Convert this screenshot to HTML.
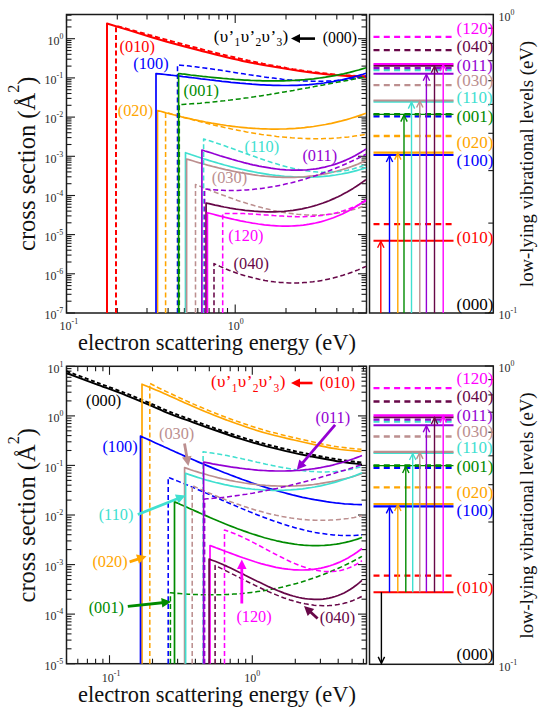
<!DOCTYPE html>
<html><head><meta charset="utf-8"><title>figure</title>
<style>html,body{margin:0;padding:0;background:#fff;}svg{display:block;}</style>
</head><body>
<svg width="550" height="713" viewBox="0 0 550 713">
<rect width="550" height="713" fill="#fff"/>
<line x1="66.5" y1="313.0" x2="66.5" y2="304.5" stroke="#1a1a1a" stroke-width="1.1"/>
<line x1="66.5" y1="14.5" x2="66.5" y2="23.0" stroke="#1a1a1a" stroke-width="1.1"/>
<line x1="117.3" y1="313.0" x2="117.3" y2="308.0" stroke="#1a1a1a" stroke-width="1.1"/>
<line x1="117.3" y1="14.5" x2="117.3" y2="19.5" stroke="#1a1a1a" stroke-width="1.1"/>
<line x1="147.0" y1="313.0" x2="147.0" y2="308.0" stroke="#1a1a1a" stroke-width="1.1"/>
<line x1="147.0" y1="14.5" x2="147.0" y2="19.5" stroke="#1a1a1a" stroke-width="1.1"/>
<line x1="168.1" y1="313.0" x2="168.1" y2="308.0" stroke="#1a1a1a" stroke-width="1.1"/>
<line x1="168.1" y1="14.5" x2="168.1" y2="19.5" stroke="#1a1a1a" stroke-width="1.1"/>
<line x1="184.4" y1="313.0" x2="184.4" y2="308.0" stroke="#1a1a1a" stroke-width="1.1"/>
<line x1="184.4" y1="14.5" x2="184.4" y2="19.5" stroke="#1a1a1a" stroke-width="1.1"/>
<line x1="197.8" y1="313.0" x2="197.8" y2="308.0" stroke="#1a1a1a" stroke-width="1.1"/>
<line x1="197.8" y1="14.5" x2="197.8" y2="19.5" stroke="#1a1a1a" stroke-width="1.1"/>
<line x1="209.1" y1="313.0" x2="209.1" y2="308.0" stroke="#1a1a1a" stroke-width="1.1"/>
<line x1="209.1" y1="14.5" x2="209.1" y2="19.5" stroke="#1a1a1a" stroke-width="1.1"/>
<line x1="218.9" y1="313.0" x2="218.9" y2="308.0" stroke="#1a1a1a" stroke-width="1.1"/>
<line x1="218.9" y1="14.5" x2="218.9" y2="19.5" stroke="#1a1a1a" stroke-width="1.1"/>
<line x1="227.5" y1="313.0" x2="227.5" y2="308.0" stroke="#1a1a1a" stroke-width="1.1"/>
<line x1="227.5" y1="14.5" x2="227.5" y2="19.5" stroke="#1a1a1a" stroke-width="1.1"/>
<line x1="235.2" y1="313.0" x2="235.2" y2="304.5" stroke="#1a1a1a" stroke-width="1.1"/>
<line x1="235.2" y1="14.5" x2="235.2" y2="23.0" stroke="#1a1a1a" stroke-width="1.1"/>
<line x1="286.0" y1="313.0" x2="286.0" y2="308.0" stroke="#1a1a1a" stroke-width="1.1"/>
<line x1="286.0" y1="14.5" x2="286.0" y2="19.5" stroke="#1a1a1a" stroke-width="1.1"/>
<line x1="315.7" y1="313.0" x2="315.7" y2="308.0" stroke="#1a1a1a" stroke-width="1.1"/>
<line x1="315.7" y1="14.5" x2="315.7" y2="19.5" stroke="#1a1a1a" stroke-width="1.1"/>
<line x1="336.8" y1="313.0" x2="336.8" y2="308.0" stroke="#1a1a1a" stroke-width="1.1"/>
<line x1="336.8" y1="14.5" x2="336.8" y2="19.5" stroke="#1a1a1a" stroke-width="1.1"/>
<line x1="353.1" y1="313.0" x2="353.1" y2="308.0" stroke="#1a1a1a" stroke-width="1.1"/>
<line x1="353.1" y1="14.5" x2="353.1" y2="19.5" stroke="#1a1a1a" stroke-width="1.1"/>
<line x1="366.5" y1="313.0" x2="366.5" y2="308.0" stroke="#1a1a1a" stroke-width="1.1"/>
<line x1="366.5" y1="14.5" x2="366.5" y2="19.5" stroke="#1a1a1a" stroke-width="1.1"/>
<line x1="66.5" y1="313.0" x2="75.0" y2="313.0" stroke="#1a1a1a" stroke-width="1.1"/>
<line x1="366.5" y1="313.0" x2="358.0" y2="313.0" stroke="#1a1a1a" stroke-width="1.1"/>
<line x1="66.5" y1="301.2" x2="71.5" y2="301.2" stroke="#1a1a1a" stroke-width="1.1"/>
<line x1="366.5" y1="301.2" x2="361.5" y2="301.2" stroke="#1a1a1a" stroke-width="1.1"/>
<line x1="66.5" y1="294.3" x2="71.5" y2="294.3" stroke="#1a1a1a" stroke-width="1.1"/>
<line x1="366.5" y1="294.3" x2="361.5" y2="294.3" stroke="#1a1a1a" stroke-width="1.1"/>
<line x1="66.5" y1="289.4" x2="71.5" y2="289.4" stroke="#1a1a1a" stroke-width="1.1"/>
<line x1="366.5" y1="289.4" x2="361.5" y2="289.4" stroke="#1a1a1a" stroke-width="1.1"/>
<line x1="66.5" y1="285.6" x2="71.5" y2="285.6" stroke="#1a1a1a" stroke-width="1.1"/>
<line x1="366.5" y1="285.6" x2="361.5" y2="285.6" stroke="#1a1a1a" stroke-width="1.1"/>
<line x1="66.5" y1="282.5" x2="71.5" y2="282.5" stroke="#1a1a1a" stroke-width="1.1"/>
<line x1="366.5" y1="282.5" x2="361.5" y2="282.5" stroke="#1a1a1a" stroke-width="1.1"/>
<line x1="66.5" y1="279.9" x2="71.5" y2="279.9" stroke="#1a1a1a" stroke-width="1.1"/>
<line x1="366.5" y1="279.9" x2="361.5" y2="279.9" stroke="#1a1a1a" stroke-width="1.1"/>
<line x1="66.5" y1="277.6" x2="71.5" y2="277.6" stroke="#1a1a1a" stroke-width="1.1"/>
<line x1="366.5" y1="277.6" x2="361.5" y2="277.6" stroke="#1a1a1a" stroke-width="1.1"/>
<line x1="66.5" y1="275.6" x2="71.5" y2="275.6" stroke="#1a1a1a" stroke-width="1.1"/>
<line x1="366.5" y1="275.6" x2="361.5" y2="275.6" stroke="#1a1a1a" stroke-width="1.1"/>
<line x1="66.5" y1="273.8" x2="75.0" y2="273.8" stroke="#1a1a1a" stroke-width="1.1"/>
<line x1="366.5" y1="273.8" x2="358.0" y2="273.8" stroke="#1a1a1a" stroke-width="1.1"/>
<line x1="66.5" y1="262.0" x2="71.5" y2="262.0" stroke="#1a1a1a" stroke-width="1.1"/>
<line x1="366.5" y1="262.0" x2="361.5" y2="262.0" stroke="#1a1a1a" stroke-width="1.1"/>
<line x1="66.5" y1="255.1" x2="71.5" y2="255.1" stroke="#1a1a1a" stroke-width="1.1"/>
<line x1="366.5" y1="255.1" x2="361.5" y2="255.1" stroke="#1a1a1a" stroke-width="1.1"/>
<line x1="66.5" y1="250.2" x2="71.5" y2="250.2" stroke="#1a1a1a" stroke-width="1.1"/>
<line x1="366.5" y1="250.2" x2="361.5" y2="250.2" stroke="#1a1a1a" stroke-width="1.1"/>
<line x1="66.5" y1="246.4" x2="71.5" y2="246.4" stroke="#1a1a1a" stroke-width="1.1"/>
<line x1="366.5" y1="246.4" x2="361.5" y2="246.4" stroke="#1a1a1a" stroke-width="1.1"/>
<line x1="66.5" y1="243.3" x2="71.5" y2="243.3" stroke="#1a1a1a" stroke-width="1.1"/>
<line x1="366.5" y1="243.3" x2="361.5" y2="243.3" stroke="#1a1a1a" stroke-width="1.1"/>
<line x1="66.5" y1="240.7" x2="71.5" y2="240.7" stroke="#1a1a1a" stroke-width="1.1"/>
<line x1="366.5" y1="240.7" x2="361.5" y2="240.7" stroke="#1a1a1a" stroke-width="1.1"/>
<line x1="66.5" y1="238.4" x2="71.5" y2="238.4" stroke="#1a1a1a" stroke-width="1.1"/>
<line x1="366.5" y1="238.4" x2="361.5" y2="238.4" stroke="#1a1a1a" stroke-width="1.1"/>
<line x1="66.5" y1="236.4" x2="71.5" y2="236.4" stroke="#1a1a1a" stroke-width="1.1"/>
<line x1="366.5" y1="236.4" x2="361.5" y2="236.4" stroke="#1a1a1a" stroke-width="1.1"/>
<line x1="66.5" y1="234.6" x2="75.0" y2="234.6" stroke="#1a1a1a" stroke-width="1.1"/>
<line x1="366.5" y1="234.6" x2="358.0" y2="234.6" stroke="#1a1a1a" stroke-width="1.1"/>
<line x1="66.5" y1="222.8" x2="71.5" y2="222.8" stroke="#1a1a1a" stroke-width="1.1"/>
<line x1="366.5" y1="222.8" x2="361.5" y2="222.8" stroke="#1a1a1a" stroke-width="1.1"/>
<line x1="66.5" y1="215.9" x2="71.5" y2="215.9" stroke="#1a1a1a" stroke-width="1.1"/>
<line x1="366.5" y1="215.9" x2="361.5" y2="215.9" stroke="#1a1a1a" stroke-width="1.1"/>
<line x1="66.5" y1="211.1" x2="71.5" y2="211.1" stroke="#1a1a1a" stroke-width="1.1"/>
<line x1="366.5" y1="211.1" x2="361.5" y2="211.1" stroke="#1a1a1a" stroke-width="1.1"/>
<line x1="66.5" y1="207.3" x2="71.5" y2="207.3" stroke="#1a1a1a" stroke-width="1.1"/>
<line x1="366.5" y1="207.3" x2="361.5" y2="207.3" stroke="#1a1a1a" stroke-width="1.1"/>
<line x1="66.5" y1="204.2" x2="71.5" y2="204.2" stroke="#1a1a1a" stroke-width="1.1"/>
<line x1="366.5" y1="204.2" x2="361.5" y2="204.2" stroke="#1a1a1a" stroke-width="1.1"/>
<line x1="66.5" y1="201.5" x2="71.5" y2="201.5" stroke="#1a1a1a" stroke-width="1.1"/>
<line x1="366.5" y1="201.5" x2="361.5" y2="201.5" stroke="#1a1a1a" stroke-width="1.1"/>
<line x1="66.5" y1="199.3" x2="71.5" y2="199.3" stroke="#1a1a1a" stroke-width="1.1"/>
<line x1="366.5" y1="199.3" x2="361.5" y2="199.3" stroke="#1a1a1a" stroke-width="1.1"/>
<line x1="66.5" y1="197.3" x2="71.5" y2="197.3" stroke="#1a1a1a" stroke-width="1.1"/>
<line x1="366.5" y1="197.3" x2="361.5" y2="197.3" stroke="#1a1a1a" stroke-width="1.1"/>
<line x1="66.5" y1="195.5" x2="75.0" y2="195.5" stroke="#1a1a1a" stroke-width="1.1"/>
<line x1="366.5" y1="195.5" x2="358.0" y2="195.5" stroke="#1a1a1a" stroke-width="1.1"/>
<line x1="66.5" y1="183.7" x2="71.5" y2="183.7" stroke="#1a1a1a" stroke-width="1.1"/>
<line x1="366.5" y1="183.7" x2="361.5" y2="183.7" stroke="#1a1a1a" stroke-width="1.1"/>
<line x1="66.5" y1="176.8" x2="71.5" y2="176.8" stroke="#1a1a1a" stroke-width="1.1"/>
<line x1="366.5" y1="176.8" x2="361.5" y2="176.8" stroke="#1a1a1a" stroke-width="1.1"/>
<line x1="66.5" y1="171.9" x2="71.5" y2="171.9" stroke="#1a1a1a" stroke-width="1.1"/>
<line x1="366.5" y1="171.9" x2="361.5" y2="171.9" stroke="#1a1a1a" stroke-width="1.1"/>
<line x1="66.5" y1="168.1" x2="71.5" y2="168.1" stroke="#1a1a1a" stroke-width="1.1"/>
<line x1="366.5" y1="168.1" x2="361.5" y2="168.1" stroke="#1a1a1a" stroke-width="1.1"/>
<line x1="66.5" y1="165.0" x2="71.5" y2="165.0" stroke="#1a1a1a" stroke-width="1.1"/>
<line x1="366.5" y1="165.0" x2="361.5" y2="165.0" stroke="#1a1a1a" stroke-width="1.1"/>
<line x1="66.5" y1="162.3" x2="71.5" y2="162.3" stroke="#1a1a1a" stroke-width="1.1"/>
<line x1="366.5" y1="162.3" x2="361.5" y2="162.3" stroke="#1a1a1a" stroke-width="1.1"/>
<line x1="66.5" y1="160.1" x2="71.5" y2="160.1" stroke="#1a1a1a" stroke-width="1.1"/>
<line x1="366.5" y1="160.1" x2="361.5" y2="160.1" stroke="#1a1a1a" stroke-width="1.1"/>
<line x1="66.5" y1="158.1" x2="71.5" y2="158.1" stroke="#1a1a1a" stroke-width="1.1"/>
<line x1="366.5" y1="158.1" x2="361.5" y2="158.1" stroke="#1a1a1a" stroke-width="1.1"/>
<line x1="66.5" y1="156.3" x2="75.0" y2="156.3" stroke="#1a1a1a" stroke-width="1.1"/>
<line x1="366.5" y1="156.3" x2="358.0" y2="156.3" stroke="#1a1a1a" stroke-width="1.1"/>
<line x1="66.5" y1="144.5" x2="71.5" y2="144.5" stroke="#1a1a1a" stroke-width="1.1"/>
<line x1="366.5" y1="144.5" x2="361.5" y2="144.5" stroke="#1a1a1a" stroke-width="1.1"/>
<line x1="66.5" y1="137.6" x2="71.5" y2="137.6" stroke="#1a1a1a" stroke-width="1.1"/>
<line x1="366.5" y1="137.6" x2="361.5" y2="137.6" stroke="#1a1a1a" stroke-width="1.1"/>
<line x1="66.5" y1="132.7" x2="71.5" y2="132.7" stroke="#1a1a1a" stroke-width="1.1"/>
<line x1="366.5" y1="132.7" x2="361.5" y2="132.7" stroke="#1a1a1a" stroke-width="1.1"/>
<line x1="66.5" y1="128.9" x2="71.5" y2="128.9" stroke="#1a1a1a" stroke-width="1.1"/>
<line x1="366.5" y1="128.9" x2="361.5" y2="128.9" stroke="#1a1a1a" stroke-width="1.1"/>
<line x1="66.5" y1="125.8" x2="71.5" y2="125.8" stroke="#1a1a1a" stroke-width="1.1"/>
<line x1="366.5" y1="125.8" x2="361.5" y2="125.8" stroke="#1a1a1a" stroke-width="1.1"/>
<line x1="66.5" y1="123.2" x2="71.5" y2="123.2" stroke="#1a1a1a" stroke-width="1.1"/>
<line x1="366.5" y1="123.2" x2="361.5" y2="123.2" stroke="#1a1a1a" stroke-width="1.1"/>
<line x1="66.5" y1="120.9" x2="71.5" y2="120.9" stroke="#1a1a1a" stroke-width="1.1"/>
<line x1="366.5" y1="120.9" x2="361.5" y2="120.9" stroke="#1a1a1a" stroke-width="1.1"/>
<line x1="66.5" y1="118.9" x2="71.5" y2="118.9" stroke="#1a1a1a" stroke-width="1.1"/>
<line x1="366.5" y1="118.9" x2="361.5" y2="118.9" stroke="#1a1a1a" stroke-width="1.1"/>
<line x1="66.5" y1="117.1" x2="75.0" y2="117.1" stroke="#1a1a1a" stroke-width="1.1"/>
<line x1="366.5" y1="117.1" x2="358.0" y2="117.1" stroke="#1a1a1a" stroke-width="1.1"/>
<line x1="66.5" y1="105.3" x2="71.5" y2="105.3" stroke="#1a1a1a" stroke-width="1.1"/>
<line x1="366.5" y1="105.3" x2="361.5" y2="105.3" stroke="#1a1a1a" stroke-width="1.1"/>
<line x1="66.5" y1="98.4" x2="71.5" y2="98.4" stroke="#1a1a1a" stroke-width="1.1"/>
<line x1="366.5" y1="98.4" x2="361.5" y2="98.4" stroke="#1a1a1a" stroke-width="1.1"/>
<line x1="66.5" y1="93.5" x2="71.5" y2="93.5" stroke="#1a1a1a" stroke-width="1.1"/>
<line x1="366.5" y1="93.5" x2="361.5" y2="93.5" stroke="#1a1a1a" stroke-width="1.1"/>
<line x1="66.5" y1="89.7" x2="71.5" y2="89.7" stroke="#1a1a1a" stroke-width="1.1"/>
<line x1="366.5" y1="89.7" x2="361.5" y2="89.7" stroke="#1a1a1a" stroke-width="1.1"/>
<line x1="66.5" y1="86.6" x2="71.5" y2="86.6" stroke="#1a1a1a" stroke-width="1.1"/>
<line x1="366.5" y1="86.6" x2="361.5" y2="86.6" stroke="#1a1a1a" stroke-width="1.1"/>
<line x1="66.5" y1="84.0" x2="71.5" y2="84.0" stroke="#1a1a1a" stroke-width="1.1"/>
<line x1="366.5" y1="84.0" x2="361.5" y2="84.0" stroke="#1a1a1a" stroke-width="1.1"/>
<line x1="66.5" y1="81.7" x2="71.5" y2="81.7" stroke="#1a1a1a" stroke-width="1.1"/>
<line x1="366.5" y1="81.7" x2="361.5" y2="81.7" stroke="#1a1a1a" stroke-width="1.1"/>
<line x1="66.5" y1="79.7" x2="71.5" y2="79.7" stroke="#1a1a1a" stroke-width="1.1"/>
<line x1="366.5" y1="79.7" x2="361.5" y2="79.7" stroke="#1a1a1a" stroke-width="1.1"/>
<line x1="66.5" y1="77.9" x2="75.0" y2="77.9" stroke="#1a1a1a" stroke-width="1.1"/>
<line x1="366.5" y1="77.9" x2="358.0" y2="77.9" stroke="#1a1a1a" stroke-width="1.1"/>
<line x1="66.5" y1="66.1" x2="71.5" y2="66.1" stroke="#1a1a1a" stroke-width="1.1"/>
<line x1="366.5" y1="66.1" x2="361.5" y2="66.1" stroke="#1a1a1a" stroke-width="1.1"/>
<line x1="66.5" y1="59.2" x2="71.5" y2="59.2" stroke="#1a1a1a" stroke-width="1.1"/>
<line x1="366.5" y1="59.2" x2="361.5" y2="59.2" stroke="#1a1a1a" stroke-width="1.1"/>
<line x1="66.5" y1="54.3" x2="71.5" y2="54.3" stroke="#1a1a1a" stroke-width="1.1"/>
<line x1="366.5" y1="54.3" x2="361.5" y2="54.3" stroke="#1a1a1a" stroke-width="1.1"/>
<line x1="66.5" y1="50.5" x2="71.5" y2="50.5" stroke="#1a1a1a" stroke-width="1.1"/>
<line x1="366.5" y1="50.5" x2="361.5" y2="50.5" stroke="#1a1a1a" stroke-width="1.1"/>
<line x1="66.5" y1="47.4" x2="71.5" y2="47.4" stroke="#1a1a1a" stroke-width="1.1"/>
<line x1="366.5" y1="47.4" x2="361.5" y2="47.4" stroke="#1a1a1a" stroke-width="1.1"/>
<line x1="66.5" y1="44.8" x2="71.5" y2="44.8" stroke="#1a1a1a" stroke-width="1.1"/>
<line x1="366.5" y1="44.8" x2="361.5" y2="44.8" stroke="#1a1a1a" stroke-width="1.1"/>
<line x1="66.5" y1="42.5" x2="71.5" y2="42.5" stroke="#1a1a1a" stroke-width="1.1"/>
<line x1="366.5" y1="42.5" x2="361.5" y2="42.5" stroke="#1a1a1a" stroke-width="1.1"/>
<line x1="66.5" y1="40.5" x2="71.5" y2="40.5" stroke="#1a1a1a" stroke-width="1.1"/>
<line x1="366.5" y1="40.5" x2="361.5" y2="40.5" stroke="#1a1a1a" stroke-width="1.1"/>
<line x1="66.5" y1="38.7" x2="75.0" y2="38.7" stroke="#1a1a1a" stroke-width="1.1"/>
<line x1="366.5" y1="38.7" x2="358.0" y2="38.7" stroke="#1a1a1a" stroke-width="1.1"/>
<line x1="66.5" y1="26.9" x2="71.5" y2="26.9" stroke="#1a1a1a" stroke-width="1.1"/>
<line x1="366.5" y1="26.9" x2="361.5" y2="26.9" stroke="#1a1a1a" stroke-width="1.1"/>
<line x1="66.5" y1="20.0" x2="71.5" y2="20.0" stroke="#1a1a1a" stroke-width="1.1"/>
<line x1="366.5" y1="20.0" x2="361.5" y2="20.0" stroke="#1a1a1a" stroke-width="1.1"/>
<line x1="66.5" y1="15.2" x2="71.5" y2="15.2" stroke="#1a1a1a" stroke-width="1.1"/>
<line x1="366.5" y1="15.2" x2="361.5" y2="15.2" stroke="#1a1a1a" stroke-width="1.1"/>
<line x1="66.5" y1="663.7" x2="66.5" y2="658.7" stroke="#1a1a1a" stroke-width="1.1"/>
<line x1="66.5" y1="366.3" x2="66.5" y2="371.3" stroke="#1a1a1a" stroke-width="1.1"/>
<line x1="77.8" y1="663.7" x2="77.8" y2="658.7" stroke="#1a1a1a" stroke-width="1.1"/>
<line x1="77.8" y1="366.3" x2="77.8" y2="371.3" stroke="#1a1a1a" stroke-width="1.1"/>
<line x1="87.4" y1="663.7" x2="87.4" y2="658.7" stroke="#1a1a1a" stroke-width="1.1"/>
<line x1="87.4" y1="366.3" x2="87.4" y2="371.3" stroke="#1a1a1a" stroke-width="1.1"/>
<line x1="95.6" y1="663.7" x2="95.6" y2="658.7" stroke="#1a1a1a" stroke-width="1.1"/>
<line x1="95.6" y1="366.3" x2="95.6" y2="371.3" stroke="#1a1a1a" stroke-width="1.1"/>
<line x1="102.9" y1="663.7" x2="102.9" y2="658.7" stroke="#1a1a1a" stroke-width="1.1"/>
<line x1="102.9" y1="366.3" x2="102.9" y2="371.3" stroke="#1a1a1a" stroke-width="1.1"/>
<line x1="109.5" y1="663.7" x2="109.5" y2="655.2" stroke="#1a1a1a" stroke-width="1.1"/>
<line x1="109.5" y1="366.3" x2="109.5" y2="374.8" stroke="#1a1a1a" stroke-width="1.1"/>
<line x1="152.5" y1="663.7" x2="152.5" y2="658.7" stroke="#1a1a1a" stroke-width="1.1"/>
<line x1="152.5" y1="366.3" x2="152.5" y2="371.3" stroke="#1a1a1a" stroke-width="1.1"/>
<line x1="177.6" y1="663.7" x2="177.6" y2="658.7" stroke="#1a1a1a" stroke-width="1.1"/>
<line x1="177.6" y1="366.3" x2="177.6" y2="371.3" stroke="#1a1a1a" stroke-width="1.1"/>
<line x1="195.4" y1="663.7" x2="195.4" y2="658.7" stroke="#1a1a1a" stroke-width="1.1"/>
<line x1="195.4" y1="366.3" x2="195.4" y2="371.3" stroke="#1a1a1a" stroke-width="1.1"/>
<line x1="209.3" y1="663.7" x2="209.3" y2="658.7" stroke="#1a1a1a" stroke-width="1.1"/>
<line x1="209.3" y1="366.3" x2="209.3" y2="371.3" stroke="#1a1a1a" stroke-width="1.1"/>
<line x1="220.6" y1="663.7" x2="220.6" y2="658.7" stroke="#1a1a1a" stroke-width="1.1"/>
<line x1="220.6" y1="366.3" x2="220.6" y2="371.3" stroke="#1a1a1a" stroke-width="1.1"/>
<line x1="230.2" y1="663.7" x2="230.2" y2="658.7" stroke="#1a1a1a" stroke-width="1.1"/>
<line x1="230.2" y1="366.3" x2="230.2" y2="371.3" stroke="#1a1a1a" stroke-width="1.1"/>
<line x1="238.4" y1="663.7" x2="238.4" y2="658.7" stroke="#1a1a1a" stroke-width="1.1"/>
<line x1="238.4" y1="366.3" x2="238.4" y2="371.3" stroke="#1a1a1a" stroke-width="1.1"/>
<line x1="245.7" y1="663.7" x2="245.7" y2="658.7" stroke="#1a1a1a" stroke-width="1.1"/>
<line x1="245.7" y1="366.3" x2="245.7" y2="371.3" stroke="#1a1a1a" stroke-width="1.1"/>
<line x1="252.3" y1="663.7" x2="252.3" y2="655.2" stroke="#1a1a1a" stroke-width="1.1"/>
<line x1="252.3" y1="366.3" x2="252.3" y2="374.8" stroke="#1a1a1a" stroke-width="1.1"/>
<line x1="295.3" y1="663.7" x2="295.3" y2="658.7" stroke="#1a1a1a" stroke-width="1.1"/>
<line x1="295.3" y1="366.3" x2="295.3" y2="371.3" stroke="#1a1a1a" stroke-width="1.1"/>
<line x1="320.4" y1="663.7" x2="320.4" y2="658.7" stroke="#1a1a1a" stroke-width="1.1"/>
<line x1="320.4" y1="366.3" x2="320.4" y2="371.3" stroke="#1a1a1a" stroke-width="1.1"/>
<line x1="338.2" y1="663.7" x2="338.2" y2="658.7" stroke="#1a1a1a" stroke-width="1.1"/>
<line x1="338.2" y1="366.3" x2="338.2" y2="371.3" stroke="#1a1a1a" stroke-width="1.1"/>
<line x1="352.1" y1="663.7" x2="352.1" y2="658.7" stroke="#1a1a1a" stroke-width="1.1"/>
<line x1="352.1" y1="366.3" x2="352.1" y2="371.3" stroke="#1a1a1a" stroke-width="1.1"/>
<line x1="363.4" y1="663.7" x2="363.4" y2="658.7" stroke="#1a1a1a" stroke-width="1.1"/>
<line x1="363.4" y1="366.3" x2="363.4" y2="371.3" stroke="#1a1a1a" stroke-width="1.1"/>
<line x1="66.5" y1="663.7" x2="75.0" y2="663.7" stroke="#1a1a1a" stroke-width="1.1"/>
<line x1="366.5" y1="663.7" x2="358.0" y2="663.7" stroke="#1a1a1a" stroke-width="1.1"/>
<line x1="66.5" y1="648.8" x2="71.5" y2="648.8" stroke="#1a1a1a" stroke-width="1.1"/>
<line x1="366.5" y1="648.8" x2="361.5" y2="648.8" stroke="#1a1a1a" stroke-width="1.1"/>
<line x1="66.5" y1="640.1" x2="71.5" y2="640.1" stroke="#1a1a1a" stroke-width="1.1"/>
<line x1="366.5" y1="640.1" x2="361.5" y2="640.1" stroke="#1a1a1a" stroke-width="1.1"/>
<line x1="66.5" y1="633.9" x2="71.5" y2="633.9" stroke="#1a1a1a" stroke-width="1.1"/>
<line x1="366.5" y1="633.9" x2="361.5" y2="633.9" stroke="#1a1a1a" stroke-width="1.1"/>
<line x1="66.5" y1="629.1" x2="71.5" y2="629.1" stroke="#1a1a1a" stroke-width="1.1"/>
<line x1="366.5" y1="629.1" x2="361.5" y2="629.1" stroke="#1a1a1a" stroke-width="1.1"/>
<line x1="66.5" y1="625.1" x2="71.5" y2="625.1" stroke="#1a1a1a" stroke-width="1.1"/>
<line x1="366.5" y1="625.1" x2="361.5" y2="625.1" stroke="#1a1a1a" stroke-width="1.1"/>
<line x1="66.5" y1="621.8" x2="71.5" y2="621.8" stroke="#1a1a1a" stroke-width="1.1"/>
<line x1="366.5" y1="621.8" x2="361.5" y2="621.8" stroke="#1a1a1a" stroke-width="1.1"/>
<line x1="66.5" y1="618.9" x2="71.5" y2="618.9" stroke="#1a1a1a" stroke-width="1.1"/>
<line x1="366.5" y1="618.9" x2="361.5" y2="618.9" stroke="#1a1a1a" stroke-width="1.1"/>
<line x1="66.5" y1="616.4" x2="71.5" y2="616.4" stroke="#1a1a1a" stroke-width="1.1"/>
<line x1="366.5" y1="616.4" x2="361.5" y2="616.4" stroke="#1a1a1a" stroke-width="1.1"/>
<line x1="66.5" y1="614.1" x2="75.0" y2="614.1" stroke="#1a1a1a" stroke-width="1.1"/>
<line x1="366.5" y1="614.1" x2="358.0" y2="614.1" stroke="#1a1a1a" stroke-width="1.1"/>
<line x1="66.5" y1="599.2" x2="71.5" y2="599.2" stroke="#1a1a1a" stroke-width="1.1"/>
<line x1="366.5" y1="599.2" x2="361.5" y2="599.2" stroke="#1a1a1a" stroke-width="1.1"/>
<line x1="66.5" y1="590.5" x2="71.5" y2="590.5" stroke="#1a1a1a" stroke-width="1.1"/>
<line x1="366.5" y1="590.5" x2="361.5" y2="590.5" stroke="#1a1a1a" stroke-width="1.1"/>
<line x1="66.5" y1="584.3" x2="71.5" y2="584.3" stroke="#1a1a1a" stroke-width="1.1"/>
<line x1="366.5" y1="584.3" x2="361.5" y2="584.3" stroke="#1a1a1a" stroke-width="1.1"/>
<line x1="66.5" y1="579.5" x2="71.5" y2="579.5" stroke="#1a1a1a" stroke-width="1.1"/>
<line x1="366.5" y1="579.5" x2="361.5" y2="579.5" stroke="#1a1a1a" stroke-width="1.1"/>
<line x1="66.5" y1="575.6" x2="71.5" y2="575.6" stroke="#1a1a1a" stroke-width="1.1"/>
<line x1="366.5" y1="575.6" x2="361.5" y2="575.6" stroke="#1a1a1a" stroke-width="1.1"/>
<line x1="66.5" y1="572.2" x2="71.5" y2="572.2" stroke="#1a1a1a" stroke-width="1.1"/>
<line x1="366.5" y1="572.2" x2="361.5" y2="572.2" stroke="#1a1a1a" stroke-width="1.1"/>
<line x1="66.5" y1="569.4" x2="71.5" y2="569.4" stroke="#1a1a1a" stroke-width="1.1"/>
<line x1="366.5" y1="569.4" x2="361.5" y2="569.4" stroke="#1a1a1a" stroke-width="1.1"/>
<line x1="66.5" y1="566.8" x2="71.5" y2="566.8" stroke="#1a1a1a" stroke-width="1.1"/>
<line x1="366.5" y1="566.8" x2="361.5" y2="566.8" stroke="#1a1a1a" stroke-width="1.1"/>
<line x1="66.5" y1="564.6" x2="75.0" y2="564.6" stroke="#1a1a1a" stroke-width="1.1"/>
<line x1="366.5" y1="564.6" x2="358.0" y2="564.6" stroke="#1a1a1a" stroke-width="1.1"/>
<line x1="66.5" y1="549.6" x2="71.5" y2="549.6" stroke="#1a1a1a" stroke-width="1.1"/>
<line x1="366.5" y1="549.6" x2="361.5" y2="549.6" stroke="#1a1a1a" stroke-width="1.1"/>
<line x1="66.5" y1="540.9" x2="71.5" y2="540.9" stroke="#1a1a1a" stroke-width="1.1"/>
<line x1="366.5" y1="540.9" x2="361.5" y2="540.9" stroke="#1a1a1a" stroke-width="1.1"/>
<line x1="66.5" y1="534.7" x2="71.5" y2="534.7" stroke="#1a1a1a" stroke-width="1.1"/>
<line x1="366.5" y1="534.7" x2="361.5" y2="534.7" stroke="#1a1a1a" stroke-width="1.1"/>
<line x1="66.5" y1="529.9" x2="71.5" y2="529.9" stroke="#1a1a1a" stroke-width="1.1"/>
<line x1="366.5" y1="529.9" x2="361.5" y2="529.9" stroke="#1a1a1a" stroke-width="1.1"/>
<line x1="66.5" y1="526.0" x2="71.5" y2="526.0" stroke="#1a1a1a" stroke-width="1.1"/>
<line x1="366.5" y1="526.0" x2="361.5" y2="526.0" stroke="#1a1a1a" stroke-width="1.1"/>
<line x1="66.5" y1="522.7" x2="71.5" y2="522.7" stroke="#1a1a1a" stroke-width="1.1"/>
<line x1="366.5" y1="522.7" x2="361.5" y2="522.7" stroke="#1a1a1a" stroke-width="1.1"/>
<line x1="66.5" y1="519.8" x2="71.5" y2="519.8" stroke="#1a1a1a" stroke-width="1.1"/>
<line x1="366.5" y1="519.8" x2="361.5" y2="519.8" stroke="#1a1a1a" stroke-width="1.1"/>
<line x1="66.5" y1="517.3" x2="71.5" y2="517.3" stroke="#1a1a1a" stroke-width="1.1"/>
<line x1="366.5" y1="517.3" x2="361.5" y2="517.3" stroke="#1a1a1a" stroke-width="1.1"/>
<line x1="66.5" y1="515.0" x2="75.0" y2="515.0" stroke="#1a1a1a" stroke-width="1.1"/>
<line x1="366.5" y1="515.0" x2="358.0" y2="515.0" stroke="#1a1a1a" stroke-width="1.1"/>
<line x1="66.5" y1="500.1" x2="71.5" y2="500.1" stroke="#1a1a1a" stroke-width="1.1"/>
<line x1="366.5" y1="500.1" x2="361.5" y2="500.1" stroke="#1a1a1a" stroke-width="1.1"/>
<line x1="66.5" y1="491.4" x2="71.5" y2="491.4" stroke="#1a1a1a" stroke-width="1.1"/>
<line x1="366.5" y1="491.4" x2="361.5" y2="491.4" stroke="#1a1a1a" stroke-width="1.1"/>
<line x1="66.5" y1="485.2" x2="71.5" y2="485.2" stroke="#1a1a1a" stroke-width="1.1"/>
<line x1="366.5" y1="485.2" x2="361.5" y2="485.2" stroke="#1a1a1a" stroke-width="1.1"/>
<line x1="66.5" y1="480.4" x2="71.5" y2="480.4" stroke="#1a1a1a" stroke-width="1.1"/>
<line x1="366.5" y1="480.4" x2="361.5" y2="480.4" stroke="#1a1a1a" stroke-width="1.1"/>
<line x1="66.5" y1="476.4" x2="71.5" y2="476.4" stroke="#1a1a1a" stroke-width="1.1"/>
<line x1="366.5" y1="476.4" x2="361.5" y2="476.4" stroke="#1a1a1a" stroke-width="1.1"/>
<line x1="66.5" y1="473.1" x2="71.5" y2="473.1" stroke="#1a1a1a" stroke-width="1.1"/>
<line x1="366.5" y1="473.1" x2="361.5" y2="473.1" stroke="#1a1a1a" stroke-width="1.1"/>
<line x1="66.5" y1="470.2" x2="71.5" y2="470.2" stroke="#1a1a1a" stroke-width="1.1"/>
<line x1="366.5" y1="470.2" x2="361.5" y2="470.2" stroke="#1a1a1a" stroke-width="1.1"/>
<line x1="66.5" y1="467.7" x2="71.5" y2="467.7" stroke="#1a1a1a" stroke-width="1.1"/>
<line x1="366.5" y1="467.7" x2="361.5" y2="467.7" stroke="#1a1a1a" stroke-width="1.1"/>
<line x1="66.5" y1="465.4" x2="75.0" y2="465.4" stroke="#1a1a1a" stroke-width="1.1"/>
<line x1="366.5" y1="465.4" x2="358.0" y2="465.4" stroke="#1a1a1a" stroke-width="1.1"/>
<line x1="66.5" y1="450.5" x2="71.5" y2="450.5" stroke="#1a1a1a" stroke-width="1.1"/>
<line x1="366.5" y1="450.5" x2="361.5" y2="450.5" stroke="#1a1a1a" stroke-width="1.1"/>
<line x1="66.5" y1="441.8" x2="71.5" y2="441.8" stroke="#1a1a1a" stroke-width="1.1"/>
<line x1="366.5" y1="441.8" x2="361.5" y2="441.8" stroke="#1a1a1a" stroke-width="1.1"/>
<line x1="66.5" y1="435.6" x2="71.5" y2="435.6" stroke="#1a1a1a" stroke-width="1.1"/>
<line x1="366.5" y1="435.6" x2="361.5" y2="435.6" stroke="#1a1a1a" stroke-width="1.1"/>
<line x1="66.5" y1="430.8" x2="71.5" y2="430.8" stroke="#1a1a1a" stroke-width="1.1"/>
<line x1="366.5" y1="430.8" x2="361.5" y2="430.8" stroke="#1a1a1a" stroke-width="1.1"/>
<line x1="66.5" y1="426.9" x2="71.5" y2="426.9" stroke="#1a1a1a" stroke-width="1.1"/>
<line x1="366.5" y1="426.9" x2="361.5" y2="426.9" stroke="#1a1a1a" stroke-width="1.1"/>
<line x1="66.5" y1="423.5" x2="71.5" y2="423.5" stroke="#1a1a1a" stroke-width="1.1"/>
<line x1="366.5" y1="423.5" x2="361.5" y2="423.5" stroke="#1a1a1a" stroke-width="1.1"/>
<line x1="66.5" y1="420.7" x2="71.5" y2="420.7" stroke="#1a1a1a" stroke-width="1.1"/>
<line x1="366.5" y1="420.7" x2="361.5" y2="420.7" stroke="#1a1a1a" stroke-width="1.1"/>
<line x1="66.5" y1="418.1" x2="71.5" y2="418.1" stroke="#1a1a1a" stroke-width="1.1"/>
<line x1="366.5" y1="418.1" x2="361.5" y2="418.1" stroke="#1a1a1a" stroke-width="1.1"/>
<line x1="66.5" y1="415.9" x2="75.0" y2="415.9" stroke="#1a1a1a" stroke-width="1.1"/>
<line x1="366.5" y1="415.9" x2="358.0" y2="415.9" stroke="#1a1a1a" stroke-width="1.1"/>
<line x1="66.5" y1="400.9" x2="71.5" y2="400.9" stroke="#1a1a1a" stroke-width="1.1"/>
<line x1="366.5" y1="400.9" x2="361.5" y2="400.9" stroke="#1a1a1a" stroke-width="1.1"/>
<line x1="66.5" y1="392.2" x2="71.5" y2="392.2" stroke="#1a1a1a" stroke-width="1.1"/>
<line x1="366.5" y1="392.2" x2="361.5" y2="392.2" stroke="#1a1a1a" stroke-width="1.1"/>
<line x1="66.5" y1="386.0" x2="71.5" y2="386.0" stroke="#1a1a1a" stroke-width="1.1"/>
<line x1="366.5" y1="386.0" x2="361.5" y2="386.0" stroke="#1a1a1a" stroke-width="1.1"/>
<line x1="66.5" y1="381.2" x2="71.5" y2="381.2" stroke="#1a1a1a" stroke-width="1.1"/>
<line x1="366.5" y1="381.2" x2="361.5" y2="381.2" stroke="#1a1a1a" stroke-width="1.1"/>
<line x1="66.5" y1="377.3" x2="71.5" y2="377.3" stroke="#1a1a1a" stroke-width="1.1"/>
<line x1="366.5" y1="377.3" x2="361.5" y2="377.3" stroke="#1a1a1a" stroke-width="1.1"/>
<line x1="66.5" y1="374.0" x2="71.5" y2="374.0" stroke="#1a1a1a" stroke-width="1.1"/>
<line x1="366.5" y1="374.0" x2="361.5" y2="374.0" stroke="#1a1a1a" stroke-width="1.1"/>
<line x1="66.5" y1="371.1" x2="71.5" y2="371.1" stroke="#1a1a1a" stroke-width="1.1"/>
<line x1="366.5" y1="371.1" x2="361.5" y2="371.1" stroke="#1a1a1a" stroke-width="1.1"/>
<line x1="66.5" y1="368.6" x2="71.5" y2="368.6" stroke="#1a1a1a" stroke-width="1.1"/>
<line x1="366.5" y1="368.6" x2="361.5" y2="368.6" stroke="#1a1a1a" stroke-width="1.1"/>
<line x1="66.5" y1="366.3" x2="75.0" y2="366.3" stroke="#1a1a1a" stroke-width="1.1"/>
<line x1="366.5" y1="366.3" x2="358.0" y2="366.3" stroke="#1a1a1a" stroke-width="1.1"/>
<line x1="493.3" y1="313.0" x2="484.8" y2="313.0" stroke="#1a1a1a" stroke-width="1.1"/>
<line x1="493.3" y1="223.1" x2="488.3" y2="223.1" stroke="#1a1a1a" stroke-width="1.1"/>
<line x1="493.3" y1="170.6" x2="488.3" y2="170.6" stroke="#1a1a1a" stroke-width="1.1"/>
<line x1="493.3" y1="133.3" x2="488.3" y2="133.3" stroke="#1a1a1a" stroke-width="1.1"/>
<line x1="493.3" y1="104.4" x2="488.3" y2="104.4" stroke="#1a1a1a" stroke-width="1.1"/>
<line x1="493.3" y1="80.7" x2="488.3" y2="80.7" stroke="#1a1a1a" stroke-width="1.1"/>
<line x1="493.3" y1="60.7" x2="488.3" y2="60.7" stroke="#1a1a1a" stroke-width="1.1"/>
<line x1="493.3" y1="43.4" x2="488.3" y2="43.4" stroke="#1a1a1a" stroke-width="1.1"/>
<line x1="493.3" y1="28.2" x2="488.3" y2="28.2" stroke="#1a1a1a" stroke-width="1.1"/>
<line x1="493.3" y1="14.5" x2="484.8" y2="14.5" stroke="#1a1a1a" stroke-width="1.1"/>
<line x1="493.3" y1="664.3" x2="484.8" y2="664.3" stroke="#1a1a1a" stroke-width="1.1"/>
<line x1="493.3" y1="574.5" x2="488.3" y2="574.5" stroke="#1a1a1a" stroke-width="1.1"/>
<line x1="493.3" y1="522.0" x2="488.3" y2="522.0" stroke="#1a1a1a" stroke-width="1.1"/>
<line x1="493.3" y1="484.7" x2="488.3" y2="484.7" stroke="#1a1a1a" stroke-width="1.1"/>
<line x1="493.3" y1="455.8" x2="488.3" y2="455.8" stroke="#1a1a1a" stroke-width="1.1"/>
<line x1="493.3" y1="432.2" x2="488.3" y2="432.2" stroke="#1a1a1a" stroke-width="1.1"/>
<line x1="493.3" y1="412.2" x2="488.3" y2="412.2" stroke="#1a1a1a" stroke-width="1.1"/>
<line x1="493.3" y1="394.9" x2="488.3" y2="394.9" stroke="#1a1a1a" stroke-width="1.1"/>
<line x1="493.3" y1="379.6" x2="488.3" y2="379.6" stroke="#1a1a1a" stroke-width="1.1"/>
<line x1="493.3" y1="366.0" x2="484.8" y2="366.0" stroke="#1a1a1a" stroke-width="1.1"/>
<rect x="66.5" y="14.5" width="300.0" height="298.5" fill="none" stroke="#1a1a1a" stroke-width="1.5"/>
<rect x="369.5" y="14.5" width="123.8" height="298.5" fill="none" stroke="#1a1a1a" stroke-width="1.5"/>
<rect x="66.5" y="366.3" width="300.0" height="297.4" fill="none" stroke="#1a1a1a" stroke-width="1.5"/>
<rect x="369.5" y="366.0" width="123.8" height="298.3" fill="none" stroke="#1a1a1a" stroke-width="1.5"/>
<text x="47.5" y="45.0" font-size="12.0" fill="#2a2a2a" font-family="'Liberation Serif', serif">10<tspan dy="-6" font-size="7.9">0</tspan></text>
<text x="44.5" y="84.2" font-size="12.0" fill="#2a2a2a" font-family="'Liberation Serif', serif">10<tspan dy="-6" font-size="7.9">-1</tspan></text>
<text x="44.5" y="123.4" font-size="12.0" fill="#2a2a2a" font-family="'Liberation Serif', serif">10<tspan dy="-6" font-size="7.9">-2</tspan></text>
<text x="44.5" y="162.6" font-size="12.0" fill="#2a2a2a" font-family="'Liberation Serif', serif">10<tspan dy="-6" font-size="7.9">-3</tspan></text>
<text x="44.5" y="201.8" font-size="12.0" fill="#2a2a2a" font-family="'Liberation Serif', serif">10<tspan dy="-6" font-size="7.9">-4</tspan></text>
<text x="44.5" y="240.9" font-size="12.0" fill="#2a2a2a" font-family="'Liberation Serif', serif">10<tspan dy="-6" font-size="7.9">-5</tspan></text>
<text x="44.5" y="280.1" font-size="12.0" fill="#2a2a2a" font-family="'Liberation Serif', serif">10<tspan dy="-6" font-size="7.9">-6</tspan></text>
<text x="44.5" y="319.3" font-size="12.0" fill="#2a2a2a" font-family="'Liberation Serif', serif">10<tspan dy="-6" font-size="7.9">-7</tspan></text>
<text x="47.5" y="372.6" font-size="12.0" fill="#2a2a2a" font-family="'Liberation Serif', serif">10<tspan dy="-6" font-size="7.9">1</tspan></text>
<text x="47.5" y="422.2" font-size="12.0" fill="#2a2a2a" font-family="'Liberation Serif', serif">10<tspan dy="-6" font-size="7.9">0</tspan></text>
<text x="44.5" y="471.7" font-size="12.0" fill="#2a2a2a" font-family="'Liberation Serif', serif">10<tspan dy="-6" font-size="7.9">-1</tspan></text>
<text x="44.5" y="521.3" font-size="12.0" fill="#2a2a2a" font-family="'Liberation Serif', serif">10<tspan dy="-6" font-size="7.9">-2</tspan></text>
<text x="44.5" y="570.9" font-size="12.0" fill="#2a2a2a" font-family="'Liberation Serif', serif">10<tspan dy="-6" font-size="7.9">-3</tspan></text>
<text x="44.5" y="620.4" font-size="12.0" fill="#2a2a2a" font-family="'Liberation Serif', serif">10<tspan dy="-6" font-size="7.9">-4</tspan></text>
<text x="44.5" y="670.0" font-size="12.0" fill="#2a2a2a" font-family="'Liberation Serif', serif">10<tspan dy="-6" font-size="7.9">-5</tspan></text>
<text x="59.5" y="330.0" font-size="12.0" fill="#2a2a2a" font-family="'Liberation Serif', serif">10<tspan dy="-6" font-size="7.9">-1</tspan></text>
<text x="227.8" y="330.0" font-size="12.0" fill="#2a2a2a" font-family="'Liberation Serif', serif">10<tspan dy="-6" font-size="7.9">0</tspan></text>
<text x="101.8" y="681.9" font-size="12.0" fill="#2a2a2a" font-family="'Liberation Serif', serif">10<tspan dy="-6" font-size="7.9">-1</tspan></text>
<text x="244.2" y="681.9" font-size="12.0" fill="#2a2a2a" font-family="'Liberation Serif', serif">10<tspan dy="-6" font-size="7.9">0</tspan></text>
<text x="498.5" y="20.5" font-size="12.0" fill="#2a2a2a" font-family="'Liberation Serif', serif">10<tspan dy="-6" font-size="7.9">0</tspan></text>
<text x="498.5" y="319.0" font-size="12.0" fill="#2a2a2a" font-family="'Liberation Serif', serif">10<tspan dy="-6" font-size="7.9">-1</tspan></text>
<text x="498.5" y="372.0" font-size="12.0" fill="#2a2a2a" font-family="'Liberation Serif', serif">10<tspan dy="-6" font-size="7.9">0</tspan></text>
<text x="498.5" y="670.5" font-size="12.0" fill="#2a2a2a" font-family="'Liberation Serif', serif">10<tspan dy="-6" font-size="7.9">-1</tspan></text>
<text transform="translate(34.5 251.0) rotate(-90)" font-size="24.5" fill="#111" font-family="'Liberation Serif', serif" textLength="174.5" lengthAdjust="spacingAndGlyphs">cross section (&#197;<tspan dy="-16" font-size="16">2</tspan><tspan dy="16">)</tspan></text>
<text transform="translate(34.5 602.5) rotate(-90)" font-size="24.5" fill="#111" font-family="'Liberation Serif', serif" textLength="174.5" lengthAdjust="spacingAndGlyphs">cross section (&#197;<tspan dy="-16" font-size="16">2</tspan><tspan dy="16">)</tspan></text>
<text x="78" y="349.5" font-size="22.5" fill="#111" font-family="'Liberation Serif', serif" textLength="278" lengthAdjust="spacingAndGlyphs">electron scattering energy (eV)</text>
<text x="78" y="702.0" font-size="22.5" fill="#111" font-family="'Liberation Serif', serif" textLength="278" lengthAdjust="spacingAndGlyphs">electron scattering energy (eV)</text>
<text transform="translate(533.0 287.0) rotate(-90)" font-size="18.7" fill="#111" font-family="'Liberation Serif', serif" textLength="246" lengthAdjust="spacingAndGlyphs">low-lying vibrational levels (eV)</text>
<text transform="translate(533.0 638.5) rotate(-90)" font-size="18.7" fill="#111" font-family="'Liberation Serif', serif" textLength="246" lengthAdjust="spacingAndGlyphs">low-lying vibrational levels (eV)</text>
<path d="M107.0 313.0 L107.0 23.5  C114.2 25.7 140.2 33.7 150.0 36.7 C159.8 39.7 157.7 39.2 166.0 41.5 C174.3 43.8 186.0 47.0 200.0 50.5 C214.0 54.0 233.3 59.1 250.0 62.5 C266.7 65.9 286.2 68.9 300.0 71.0 C313.8 73.1 322.0 74.0 333.0 75.0 C344.0 76.0 360.5 76.5 366.0 76.8" fill="none" stroke="#ff0000" stroke-width="2.00" stroke-linejoin="round"/>
<path d="M116.0 313.0 L116.0 25.8 L116.0 25.8 L119.0 26.6 L122.0 27.5 L125.0 28.3 L128.0 29.1 L131.0 30.0 L134.0 30.8 L137.0 31.6 L140.0 32.5 L143.0 33.3 L146.0 34.1 L149.0 35.0 L152.0 35.8 L155.0 36.6 L158.0 37.5 L161.0 38.3 L164.0 39.1 L167.0 40.0 L170.0 40.8 L173.0 41.6 L176.0 42.4 L179.0 43.2 L182.0 44.0 L185.0 44.9 L188.0 45.7 L191.0 46.5 L194.0 47.2 L197.0 48.0 L200.0 48.8 L203.0 49.6 L206.0 50.4 L209.0 51.1 L212.0 51.9 L215.0 52.7 L218.0 53.4 L221.0 54.2 L224.0 54.9 L227.0 55.6 L230.0 56.3 L233.0 57.0 L236.0 57.8 L239.0 58.4 L242.0 59.1 L245.0 59.8 L248.0 60.5 L251.0 61.1 L254.0 61.8 L257.0 62.4 L260.0 63.0 L263.0 63.7 L266.0 64.3 L269.0 64.9 L272.0 65.4 L275.0 66.0 L278.0 66.6 L281.0 67.1 L284.0 67.6 L287.0 68.2 L290.0 68.7 L293.0 69.2 L296.0 69.6 L299.0 70.1 L302.0 70.6 L305.0 71.0 L308.0 71.4 L311.0 71.8 L314.0 72.2 L317.0 72.6 L320.0 73.0 L323.0 73.3 L326.0 73.6 L329.0 73.9 L332.0 74.2 L335.0 74.5 L338.0 74.8 L341.0 75.0 L344.0 75.2 L347.0 75.4 L350.0 75.6 L353.0 75.8 L356.0 75.9 L359.0 76.1 L362.0 76.2 L365.0 76.3 L366.0 76.3" fill="none" stroke="#ff0000" stroke-width="2.00" stroke-dasharray="5 2.8" stroke-linejoin="round"/>
<path d="M157.5 313.0 L157.5 110.5 L157.5 110.5 L160.5 111.3 L163.5 112.1 L166.5 113.0 L169.5 113.7 L172.5 114.5 L175.5 115.3 L178.5 116.0 L181.5 116.8 L184.5 117.5 L187.5 118.2 L190.5 118.8 L193.5 119.5 L196.5 120.1 L199.5 120.8 L202.5 121.4 L205.5 122.0 L208.5 122.5 L211.5 123.1 L214.5 123.6 L217.5 124.1 L220.5 124.6 L223.5 125.0 L226.5 125.5 L229.5 125.9 L232.5 126.3 L235.5 126.7 L238.5 127.0 L241.5 127.3 L244.5 127.6 L247.5 127.9 L250.5 128.1 L253.5 128.3 L256.5 128.5 L259.5 128.7 L262.5 128.8 L265.5 128.9 L268.5 129.0 L271.5 129.1 L274.5 129.1 L277.5 129.1 L280.5 129.0 L283.5 129.0 L286.5 128.9 L289.5 128.7 L292.5 128.6 L295.5 128.4 L298.5 128.1 L301.5 127.9 L304.5 127.6 L307.5 127.2 L310.5 126.9 L313.5 126.5 L316.5 126.0 L319.5 125.5 L322.5 125.0 L325.5 124.5 L328.5 123.9 L331.5 123.3 L334.5 122.6 L337.5 121.9 L340.5 121.2 L343.5 120.4 L346.5 119.6 L349.5 118.7 L352.5 117.8 L355.5 116.9 L358.5 115.9 L361.5 114.9 L364.5 113.8 L366.0 113.3" fill="none" stroke="#ffa500" stroke-width="1.70" stroke-linejoin="round"/>
<path d="M165.6 313.0 L165.6 112.4 L165.6 112.4 L168.6 113.2 L171.6 114.1 L174.6 114.9 L177.6 115.7 L180.6 116.5 L183.6 117.4 L186.6 118.2 L189.6 118.9 L192.6 119.7 L195.6 120.5 L198.6 121.3 L201.6 122.0 L204.6 122.8 L207.6 123.5 L210.6 124.2 L213.6 125.0 L216.6 125.7 L219.6 126.4 L222.6 127.0 L225.6 127.7 L228.6 128.3 L231.6 129.0 L234.6 129.6 L237.6 130.2 L240.6 130.8 L243.6 131.3 L246.6 131.9 L249.6 132.4 L252.6 132.9 L255.6 133.4 L258.6 133.9 L261.6 134.4 L264.6 134.8 L267.6 135.2 L270.6 135.6 L273.6 136.0 L276.6 136.4 L279.6 136.7 L282.6 137.0 L285.6 137.3 L288.6 137.5 L291.6 137.8 L294.6 138.0 L297.6 138.2 L300.6 138.3 L303.6 138.5 L306.6 138.6 L309.6 138.6 L312.6 138.7 L315.6 138.7 L318.6 138.7 L321.6 138.7 L324.6 138.6 L327.6 138.5 L330.6 138.4 L333.6 138.2 L336.6 138.0 L339.6 137.8 L342.6 137.5 L345.6 137.2 L348.6 136.9 L351.6 136.5 L354.6 136.1 L357.6 135.7 L360.6 135.2 L363.6 134.7 L366.0 134.3" fill="none" stroke="#ffa500" stroke-width="1.55" stroke-dasharray="5 2.8" stroke-linejoin="round"/>
<path d="M156.0 313.0 L156.0 73.6 L156.0 73.6 L159.0 73.9 L162.0 74.2 L165.0 74.5 L168.0 74.8 L171.0 75.2 L174.0 75.5 L177.0 75.8 L180.0 76.2 L183.0 76.6 L186.0 76.9 L189.0 77.3 L192.0 77.7 L195.0 78.0 L198.0 78.4 L201.0 78.8 L204.0 79.1 L207.0 79.5 L210.0 79.9 L213.0 80.2 L216.0 80.6 L219.0 80.9 L222.0 81.3 L225.0 81.6 L228.0 81.9 L231.0 82.3 L234.0 82.6 L237.0 82.9 L240.0 83.2 L243.0 83.4 L246.0 83.7 L249.0 83.9 L252.0 84.2 L255.0 84.4 L258.0 84.6 L261.0 84.8 L264.0 84.9 L267.0 85.1 L270.0 85.2 L273.0 85.3 L276.0 85.4 L279.0 85.4 L282.0 85.5 L285.0 85.5 L288.0 85.5 L291.0 85.4 L294.0 85.4 L297.0 85.3 L300.0 85.1 L303.0 85.0 L306.0 84.8 L309.0 84.6 L312.0 84.3 L315.0 84.0 L318.0 83.7 L321.0 83.4 L324.0 83.0 L327.0 82.5 L330.0 82.1 L333.0 81.6 L336.0 81.0 L339.0 80.4 L342.0 79.8 L345.0 79.1 L348.0 78.4 L351.0 77.7 L354.0 76.9 L357.0 76.0 L360.0 75.1 L363.0 74.2 L366.0 73.2" fill="none" stroke="#0000ff" stroke-width="1.70" stroke-linejoin="round"/>
<path d="M177.5 313.0 L177.5 65.0 L177.5 65.0 L180.5 65.2 L183.5 65.5 L186.5 65.8 L189.5 66.1 L192.5 66.5 L195.5 66.8 L198.5 67.2 L201.5 67.6 L204.5 67.9 L207.5 68.4 L210.5 68.8 L213.5 69.2 L216.5 69.7 L219.5 70.1 L222.5 70.6 L225.5 71.0 L228.5 71.5 L231.5 72.0 L234.5 72.4 L237.5 72.9 L240.5 73.4 L243.5 73.8 L246.5 74.3 L249.5 74.8 L252.5 75.2 L255.5 75.7 L258.5 76.1 L261.5 76.5 L264.5 77.0 L267.5 77.4 L270.5 77.8 L273.5 78.1 L276.5 78.5 L279.5 78.8 L282.5 79.2 L285.5 79.5 L288.5 79.8 L291.5 80.0 L294.5 80.3 L297.5 80.5 L300.5 80.7 L303.5 80.9 L306.5 81.0 L309.5 81.1 L312.5 81.2 L315.5 81.2 L318.5 81.2 L321.5 81.2 L324.5 81.2 L327.5 81.1 L330.5 80.9 L333.5 80.8 L336.5 80.5 L339.5 80.3 L342.5 80.0 L345.5 79.6 L348.5 79.3 L351.5 78.8 L354.5 78.3 L357.5 77.8 L360.5 77.2 L363.5 76.6 L366.0 76.0" fill="none" stroke="#0000ff" stroke-width="1.55" stroke-dasharray="5 2.8" stroke-linejoin="round"/>
<path d="M178.6 313.0 L178.6 73.5 L178.6 73.5 L181.6 73.9 L184.6 74.2 L187.6 74.6 L190.6 75.0 L193.6 75.3 L196.6 75.7 L199.6 76.0 L202.6 76.4 L205.6 76.7 L208.6 77.0 L211.6 77.3 L214.6 77.6 L217.6 77.9 L220.6 78.2 L223.6 78.5 L226.6 78.7 L229.6 79.0 L232.6 79.2 L235.6 79.5 L238.6 79.7 L241.6 79.9 L244.6 80.1 L247.6 80.2 L250.6 80.4 L253.6 80.5 L256.6 80.6 L259.6 80.7 L262.6 80.8 L265.6 80.9 L268.6 80.9 L271.6 80.9 L274.6 80.9 L277.6 80.9 L280.6 80.9 L283.6 80.8 L286.6 80.7 L289.6 80.6 L292.6 80.5 L295.6 80.3 L298.6 80.1 L301.6 79.9 L304.6 79.7 L307.6 79.4 L310.6 79.1 L313.6 78.8 L316.6 78.4 L319.6 78.0 L322.6 77.6 L325.6 77.2 L328.6 76.7 L331.6 76.2 L334.6 75.6 L337.6 75.0 L340.6 74.4 L343.6 73.8 L346.6 73.1 L349.6 72.4 L352.6 71.6 L355.6 70.8 L358.6 70.0 L361.6 69.1 L364.6 68.2 L366.0 67.8" fill="none" stroke="#008b00" stroke-width="1.70" stroke-linejoin="round"/>
<path d="M179.3 313.0 L179.3 104.5 L179.3 104.5 L182.3 104.4 L185.3 104.2 L188.3 104.0 L191.3 103.8 L194.3 103.6 L197.3 103.4 L200.3 103.2 L203.3 102.9 L206.3 102.6 L209.3 102.4 L212.3 102.1 L215.3 101.8 L218.3 101.5 L221.3 101.1 L224.3 100.8 L227.3 100.4 L230.3 100.1 L233.3 99.7 L236.3 99.3 L239.3 98.9 L242.3 98.5 L245.3 98.1 L248.3 97.7 L251.3 97.2 L254.3 96.8 L257.3 96.3 L260.3 95.9 L263.3 95.4 L266.3 94.9 L269.3 94.5 L272.3 94.0 L275.3 93.5 L278.3 93.0 L281.3 92.5 L284.3 91.9 L287.3 91.4 L290.3 90.9 L293.3 90.4 L296.3 89.8 L299.3 89.3 L302.3 88.8 L305.3 88.2 L308.3 87.7 L311.3 87.1 L314.3 86.6 L317.3 86.0 L320.3 85.4 L323.3 84.9 L326.3 84.3 L329.3 83.8 L332.3 83.2 L335.3 82.6 L338.3 82.1 L341.3 81.5 L344.3 80.9 L347.3 80.4 L350.3 79.8 L353.3 79.3 L356.3 78.7 L359.3 78.1 L362.3 77.6 L365.3 77.0 L366.0 76.9" fill="none" stroke="#008b00" stroke-width="1.55" stroke-dasharray="5 2.8" stroke-linejoin="round"/>
<path d="M185.5 313.0 L185.5 152.7 L185.5 152.7 L188.5 153.7 L191.5 154.8 L194.5 155.8 L197.5 156.8 L200.5 157.7 L203.5 158.7 L206.5 159.6 L209.5 160.6 L212.5 161.5 L215.5 162.4 L218.5 163.3 L221.5 164.1 L224.5 165.0 L227.5 165.8 L230.5 166.6 L233.5 167.3 L236.5 168.1 L239.5 168.8 L242.5 169.5 L245.5 170.2 L248.5 170.8 L251.5 171.4 L254.5 172.0 L257.5 172.6 L260.5 173.1 L263.5 173.6 L266.5 174.1 L269.5 174.6 L272.5 175.0 L275.5 175.4 L278.5 175.7 L281.5 176.0 L284.5 176.3 L287.5 176.5 L290.5 176.7 L293.5 176.9 L296.5 177.0 L299.5 177.1 L302.5 177.2 L305.5 177.2 L308.5 177.2 L311.5 177.1 L314.5 177.0 L317.5 176.8 L320.5 176.6 L323.5 176.4 L326.5 176.1 L329.5 175.8 L332.5 175.4 L335.5 175.0 L338.5 174.5 L341.5 174.0 L344.5 173.4 L347.5 172.8 L350.5 172.1 L353.5 171.4 L356.5 170.6 L359.5 169.8 L362.5 168.9 L365.5 168.0 L366.0 167.8" fill="none" stroke="#40e0d0" stroke-width="1.70" stroke-linejoin="round"/>
<path d="M186.6 313.0 L186.6 159.0 L186.6 159.0 L189.6 159.9 L192.6 160.8 L195.6 161.7 L198.6 162.6 L201.6 163.4 L204.6 164.2 L207.6 165.1 L210.6 165.9 L213.6 166.7 L216.6 167.4 L219.6 168.2 L222.6 168.9 L225.6 169.6 L228.6 170.2 L231.6 170.9 L234.6 171.5 L237.6 172.1 L240.6 172.7 L243.6 173.2 L246.6 173.7 L249.6 174.2 L252.6 174.7 L255.6 175.1 L258.6 175.5 L261.6 175.8 L264.6 176.2 L267.6 176.4 L270.6 176.7 L273.6 176.9 L276.6 177.1 L279.6 177.2 L282.6 177.3 L285.6 177.4 L288.6 177.4 L291.6 177.4 L294.6 177.3 L297.6 177.2 L300.6 177.0 L303.6 176.8 L306.6 176.5 L309.6 176.2 L312.6 175.9 L315.6 175.5 L318.6 175.0 L321.6 174.5 L324.6 174.0 L327.6 173.4 L330.6 172.7 L333.6 172.0 L336.6 171.2 L339.6 170.4 L342.6 169.5 L345.6 168.6 L348.6 167.6 L351.6 166.5 L354.6 165.4 L357.6 164.2 L360.6 162.9 L363.6 161.6 L366.0 160.5" fill="none" stroke="#bc8f8f" stroke-width="1.70" stroke-linejoin="round"/>
<path d="M195.5 313.0 L195.5 184.5 L195.5 184.5 L198.5 185.7 L201.5 186.9 L204.5 188.1 L207.5 189.3 L210.5 190.5 L213.5 191.6 L216.5 192.8 L219.5 193.9 L222.5 195.0 L225.5 196.1 L228.5 197.2 L231.5 198.3 L234.5 199.3 L237.5 200.4 L240.5 201.4 L243.5 202.3 L246.5 203.3 L249.5 204.2 L252.5 205.1 L255.5 206.0 L258.5 206.8 L261.5 207.6 L264.5 208.4 L267.5 209.1 L270.5 209.8 L273.5 210.5 L276.5 211.1 L279.5 211.7 L282.5 212.2 L285.5 212.7 L288.5 213.2 L291.5 213.6 L294.5 214.0 L297.5 214.3 L300.5 214.5 L303.5 214.8 L306.5 214.9 L309.5 215.0 L312.5 215.1 L315.5 215.1 L318.5 215.0 L321.5 214.9 L324.5 214.7 L327.5 214.5 L330.5 214.2 L333.5 213.8 L336.5 213.3 L339.5 212.8 L342.5 212.3 L345.5 211.6 L348.5 210.9 L351.5 210.1 L354.5 209.3 L357.5 208.4 L360.5 207.3 L363.5 206.3 L366.0 205.3" fill="none" stroke="#bc8f8f" stroke-width="1.55" stroke-dasharray="5 2.8" stroke-linejoin="round"/>
<path d="M203.6 313.0 L203.6 139.0 L203.6 139.0 L206.6 139.9 L209.6 140.8 L212.6 141.8 L215.6 142.8 L218.6 143.8 L221.6 144.8 L224.6 145.8 L227.6 146.9 L230.6 148.0 L233.6 149.0 L236.6 150.1 L239.6 151.2 L242.6 152.3 L245.6 153.4 L248.6 154.5 L251.6 155.6 L254.6 156.6 L257.6 157.7 L260.6 158.7 L263.6 159.7 L266.6 160.8 L269.6 161.7 L272.6 162.7 L275.6 163.6 L278.6 164.5 L281.6 165.4 L284.6 166.2 L287.6 167.0 L290.6 167.7 L293.6 168.4 L296.6 169.1 L299.6 169.7 L302.6 170.2 L305.6 170.7 L308.6 171.1 L311.6 171.5 L314.6 171.8 L317.6 172.1 L320.6 172.2 L323.6 172.3 L326.6 172.3 L329.6 172.3 L332.6 172.1 L335.6 171.9 L338.6 171.6 L341.6 171.2 L344.6 170.7 L347.6 170.2 L350.6 169.5 L353.6 168.7 L356.6 167.8 L359.6 166.9 L362.6 165.8 L365.6 164.6 L366.0 164.4" fill="none" stroke="#40e0d0" stroke-width="1.55" stroke-dasharray="5 2.8" stroke-linejoin="round"/>
<path d="M201.9 313.0 L201.9 150.0 L201.9 150.0 L204.9 151.0 L207.9 151.9 L210.9 152.8 L213.9 153.8 L216.9 154.7 L219.9 155.7 L222.9 156.6 L225.9 157.5 L228.9 158.4 L231.9 159.3 L234.9 160.1 L237.9 161.0 L240.9 161.8 L243.9 162.6 L246.9 163.3 L249.9 164.1 L252.9 164.8 L255.9 165.4 L258.9 166.1 L261.9 166.7 L264.9 167.2 L267.9 167.7 L270.9 168.2 L273.9 168.6 L276.9 169.0 L279.9 169.4 L282.9 169.6 L285.9 169.9 L288.9 170.0 L291.9 170.2 L294.9 170.2 L297.9 170.2 L300.9 170.1 L303.9 170.0 L306.9 169.8 L309.9 169.5 L312.9 169.2 L315.9 168.8 L318.9 168.3 L321.9 167.7 L324.9 167.1 L327.9 166.3 L330.9 165.5 L333.9 164.6 L336.9 163.6 L339.9 162.5 L342.9 161.4 L345.9 160.1 L348.9 158.7 L351.9 157.3 L354.9 155.7 L357.9 154.0 L360.9 152.3 L363.9 150.4 L366.0 149.0" fill="none" stroke="#9400d3" stroke-width="1.70" stroke-linejoin="round"/>
<path d="M204.6 313.0 L204.6 189.0 L204.6 189.0 L207.6 189.3 L210.6 189.6 L213.6 189.8 L216.6 190.0 L219.6 190.2 L222.6 190.3 L225.6 190.4 L228.6 190.5 L231.6 190.5 L234.6 190.4 L237.6 190.4 L240.6 190.2 L243.6 190.1 L246.6 189.9 L249.6 189.7 L252.6 189.4 L255.6 189.1 L258.6 188.8 L261.6 188.4 L264.6 188.0 L267.6 187.6 L270.6 187.1 L273.6 186.6 L276.6 186.0 L279.6 185.4 L282.6 184.8 L285.6 184.1 L288.6 183.4 L291.6 182.7 L294.6 181.9 L297.6 181.2 L300.6 180.3 L303.6 179.5 L306.6 178.6 L309.6 177.6 L312.6 176.7 L315.6 175.7 L318.6 174.7 L321.6 173.6 L324.6 172.5 L327.6 171.4 L330.6 170.2 L333.6 169.0 L336.6 167.8 L339.6 166.6 L342.6 165.3 L345.6 164.0 L348.6 162.6 L351.6 161.3 L354.6 159.9 L357.6 158.5 L360.6 157.0 L363.6 155.5 L366.0 154.3" fill="none" stroke="#9400d3" stroke-width="1.55" stroke-dasharray="5 2.8" stroke-linejoin="round"/>
<path d="M206.1 313.0 L206.1 203.0 L206.1 203.0 L209.1 203.7 L212.1 204.4 L215.1 205.1 L218.1 205.7 L221.1 206.4 L224.1 207.0 L227.1 207.5 L230.1 208.1 L233.1 208.6 L236.1 209.1 L239.1 209.5 L242.1 209.9 L245.1 210.3 L248.1 210.6 L251.1 210.9 L254.1 211.2 L257.1 211.4 L260.1 211.6 L263.1 211.7 L266.1 211.8 L269.1 211.8 L272.1 211.8 L275.1 211.8 L278.1 211.7 L281.1 211.5 L284.1 211.3 L287.1 211.0 L290.1 210.7 L293.1 210.3 L296.1 209.8 L299.1 209.3 L302.1 208.8 L305.1 208.1 L308.1 207.5 L311.1 206.7 L314.1 205.9 L317.1 205.0 L320.1 204.0 L323.1 203.0 L326.1 201.9 L329.1 200.7 L332.1 199.4 L335.1 198.1 L338.1 196.7 L341.1 195.2 L344.1 193.6 L347.1 192.0 L350.1 190.2 L353.1 188.4 L356.1 186.5 L359.1 184.5 L362.1 182.4 L365.1 180.3 L366.0 179.6" fill="none" stroke="#670748" stroke-width="1.70" stroke-linejoin="round"/>
<path d="M207.4 313.0 L207.4 212.7 L207.4 212.7 L210.4 213.5 L213.4 214.3 L216.4 215.1 L219.4 215.9 L222.4 216.6 L225.4 217.4 L228.4 218.1 L231.4 218.8 L234.4 219.5 L237.4 220.1 L240.4 220.8 L243.4 221.4 L246.4 222.0 L249.4 222.5 L252.4 223.1 L255.4 223.5 L258.4 224.0 L261.4 224.4 L264.4 224.8 L267.4 225.1 L270.4 225.4 L273.4 225.6 L276.4 225.8 L279.4 226.0 L282.4 226.1 L285.4 226.1 L288.4 226.1 L291.4 226.0 L294.4 225.8 L297.4 225.6 L300.4 225.4 L303.4 225.1 L306.4 224.7 L309.4 224.2 L312.4 223.6 L315.4 223.0 L318.4 222.3 L321.4 221.6 L324.4 220.7 L327.4 219.8 L330.4 218.8 L333.4 217.7 L336.4 216.5 L339.4 215.3 L342.4 213.9 L345.4 212.4 L348.4 210.9 L351.4 209.3 L354.4 207.5 L357.4 205.7 L360.4 203.7 L363.4 201.7 L366.0 199.8" fill="none" stroke="#ff00ff" stroke-width="1.70" stroke-linejoin="round"/>
<path d="M222.7 313.0 L222.7 213.6 L222.7 213.6 L225.7 213.5 L228.7 213.4 L231.7 213.4 L234.7 213.4 L237.7 213.4 L240.7 213.5 L243.7 213.6 L246.7 213.7 L249.7 213.9 L252.7 214.1 L255.7 214.3 L258.7 214.5 L261.7 214.7 L264.7 214.9 L267.7 215.1 L270.7 215.3 L273.7 215.6 L276.7 215.8 L279.7 216.0 L282.7 216.1 L285.7 216.3 L288.7 216.4 L291.7 216.5 L294.7 216.6 L297.7 216.7 L300.7 216.7 L303.7 216.7 L306.7 216.6 L309.7 216.5 L312.7 216.3 L315.7 216.1 L318.7 215.8 L321.7 215.4 L324.7 215.0 L327.7 214.5 L330.7 214.0 L333.7 213.4 L336.7 212.7 L339.7 211.9 L342.7 211.0 L345.7 210.0 L348.7 209.0 L351.7 207.8 L354.7 206.6 L357.7 205.2 L360.7 203.8 L363.7 202.2 L366.0 200.9" fill="none" stroke="#ff00ff" stroke-width="1.55" stroke-dasharray="5 2.8" stroke-linejoin="round"/>
<path d="M214.0 313.0 L214.0 263.6 L214.0 263.6 L217.0 265.0 L220.0 266.4 L223.0 267.7 L226.0 269.0 L229.0 270.2 L232.0 271.3 L235.0 272.4 L238.0 273.5 L241.0 274.5 L244.0 275.4 L247.0 276.3 L250.0 277.1 L253.0 277.9 L256.0 278.6 L259.0 279.3 L262.0 279.9 L265.0 280.5 L268.0 281.0 L271.0 281.4 L274.0 281.8 L277.0 282.1 L280.0 282.4 L283.0 282.6 L286.0 282.8 L289.0 282.9 L292.0 283.0 L295.0 283.0 L298.0 282.9 L301.0 282.8 L304.0 282.6 L307.0 282.4 L310.0 282.1 L313.0 281.8 L316.0 281.4 L319.0 280.9 L322.0 280.4 L325.0 279.9 L328.0 279.2 L331.0 278.6 L334.0 277.8 L337.0 277.0 L340.0 276.2 L343.0 275.3 L346.0 274.3 L349.0 273.3 L352.0 272.2 L355.0 271.1 L358.0 269.9 L361.0 268.6 L364.0 267.3 L366.0 266.4" fill="none" stroke="#670748" stroke-width="1.55" stroke-dasharray="5 2.8" stroke-linejoin="round"/>
<path d="M66.5 371.2  C71.4 373.0 86.1 378.5 96.0 382.2 C105.9 385.9 117.3 390.0 126.0 393.4 C134.7 396.8 140.7 399.3 148.0 402.4 C155.3 405.5 162.5 408.9 170.0 411.9 C177.5 414.9 185.3 417.6 193.0 420.4 C200.7 423.2 208.2 425.9 216.0 428.6 C223.8 431.3 232.3 434.3 240.0 436.7 C247.7 439.1 254.5 441.2 262.0 443.2 C269.5 445.2 277.0 447.1 285.0 448.9 C293.0 450.8 301.3 452.6 310.0 454.3 C318.7 456.0 328.3 457.9 337.0 459.3 C345.7 460.7 357.8 462.1 362.0 462.6" fill="none" stroke="#000000" stroke-width="1.90" stroke-dasharray="4 2.5" stroke-linejoin="round"/>
<path d="M66.5 373.1  C71.4 374.9 86.1 380.4 96.0 384.1 C105.9 387.8 117.3 391.9 126.0 395.3 C134.7 398.7 140.7 401.2 148.0 404.3 C155.3 407.4 162.5 410.8 170.0 413.8 C177.5 416.8 185.3 419.5 193.0 422.3 C200.7 425.1 208.2 427.8 216.0 430.5 C223.8 433.2 232.3 436.2 240.0 438.6 C247.7 441.0 254.5 443.1 262.0 445.1 C269.5 447.1 277.0 448.9 285.0 450.8 C293.0 452.7 301.3 454.5 310.0 456.2 C318.7 457.9 328.3 459.8 337.0 461.2 C345.7 462.6 357.8 463.9 362.0 464.5" fill="none" stroke="#000000" stroke-width="1.90" stroke-linejoin="round"/>
<path d="M142.0 663.7 L142.0 384.2  C145.3 385.6 155.0 389.4 162.0 392.5 C169.0 395.6 176.8 399.3 184.0 402.5 C191.2 405.7 198.3 408.9 205.5 411.8 C212.7 414.8 219.6 417.4 227.0 420.2 C234.4 422.9 242.5 425.9 250.0 428.3 C257.5 430.7 264.7 432.9 272.0 434.8 C279.3 436.8 286.8 438.3 294.0 440.0 C301.2 441.7 308.3 443.3 315.5 444.8 C322.7 446.3 329.3 447.9 337.0 449.0 C344.7 450.1 357.4 451.1 361.5 451.5" fill="none" stroke="#ffa500" stroke-width="1.70" stroke-linejoin="round"/>
<path d="M149.8 663.7 L149.8 383.3  C151.8 384.3 156.3 386.8 162.0 389.5 C167.7 392.2 176.8 396.5 184.0 399.8 C191.2 403.1 198.3 406.2 205.5 409.2 C212.7 412.2 219.6 414.9 227.0 417.7 C234.4 420.4 242.5 423.3 250.0 425.7 C257.5 428.1 264.7 430.3 272.0 432.3 C279.3 434.3 286.8 435.9 294.0 437.6 C301.2 439.3 308.3 441.0 315.5 442.5 C322.7 444.0 329.3 445.6 337.0 446.7 C344.7 447.8 357.4 448.9 361.5 449.3" fill="none" stroke="#ffa500" stroke-width="1.55" stroke-dasharray="5 2.8" stroke-linejoin="round"/>
<path d="M140.5 663.7 L140.5 436.0 L140.5 436.0 L143.5 437.4 L146.5 438.8 L149.5 440.1 L152.5 441.5 L155.5 442.9 L158.5 444.3 L161.5 445.6 L164.5 447.0 L167.5 448.3 L170.5 449.7 L173.5 451.0 L176.5 452.4 L179.5 453.7 L182.5 455.1 L185.5 456.4 L188.5 457.7 L191.5 459.0 L194.5 460.3 L197.5 461.6 L200.5 462.9 L203.5 464.1 L206.5 465.4 L209.5 466.6 L212.5 467.9 L215.5 469.1 L218.5 470.3 L221.5 471.5 L224.5 472.7 L227.5 473.8 L230.5 475.0 L233.5 476.1 L236.5 477.3 L239.5 478.4 L242.5 479.5 L245.5 480.5 L248.5 481.6 L251.5 482.7 L254.5 483.7 L257.5 484.7 L260.5 485.7 L263.5 486.6 L266.5 487.6 L269.5 488.5 L272.5 489.4 L275.5 490.3 L278.5 491.2 L281.5 492.0 L284.5 492.8 L287.5 493.6 L290.5 494.4 L293.5 495.2 L296.5 495.9 L299.5 496.6 L302.5 497.3 L305.5 497.9 L308.5 498.5 L311.5 499.1 L314.5 499.7 L317.5 500.2 L320.5 500.7 L323.5 501.2 L326.5 501.7 L329.5 502.1 L332.5 502.5 L335.5 502.9 L338.5 503.2 L341.5 503.5 L344.5 503.8 L347.5 504.0 L350.5 504.2 L353.5 504.4 L356.5 504.5 L359.5 504.6 L362.0 504.7" fill="none" stroke="#0000ff" stroke-width="1.70" stroke-linejoin="round"/>
<path d="M168.2 663.7 L168.2 477.3 L168.2 477.3 L171.2 478.5 L174.2 479.7 L177.2 480.9 L180.2 482.1 L183.2 483.3 L186.2 484.6 L189.2 485.8 L192.2 487.1 L195.2 488.4 L198.2 489.7 L201.2 491.0 L204.2 492.3 L207.2 493.6 L210.2 494.9 L213.2 496.2 L216.2 497.5 L219.2 498.8 L222.2 500.2 L225.2 501.5 L228.2 502.8 L231.2 504.1 L234.2 505.3 L237.2 506.6 L240.2 507.9 L243.2 509.1 L246.2 510.4 L249.2 511.6 L252.2 512.8 L255.2 514.0 L258.2 515.2 L261.2 516.4 L264.2 517.5 L267.2 518.6 L270.2 519.7 L273.2 520.8 L276.2 521.8 L279.2 522.8 L282.2 523.8 L285.2 524.8 L288.2 525.7 L291.2 526.6 L294.2 527.4 L297.2 528.3 L300.2 529.0 L303.2 529.8 L306.2 530.5 L309.2 531.2 L312.2 531.8 L315.2 532.4 L318.2 532.9 L321.2 533.4 L324.2 533.8 L327.2 534.2 L330.2 534.6 L333.2 534.9 L336.2 535.1 L339.2 535.3 L342.2 535.4 L345.2 535.5 L348.2 535.5 L351.2 535.5 L354.2 535.4 L357.2 535.2 L360.2 535.0 L362.0 534.8" fill="none" stroke="#0000ff" stroke-width="1.55" stroke-dasharray="5 2.8" stroke-linejoin="round"/>
<path d="M174.5 663.7 L174.5 501.8 L174.5 501.8 L177.5 503.1 L180.5 504.5 L183.5 505.8 L186.5 507.1 L189.5 508.5 L192.5 509.8 L195.5 511.1 L198.5 512.4 L201.5 513.8 L204.5 515.1 L207.5 516.4 L210.5 517.7 L213.5 519.0 L216.5 520.2 L219.5 521.5 L222.5 522.7 L225.5 524.0 L228.5 525.2 L231.5 526.4 L234.5 527.5 L237.5 528.7 L240.5 529.8 L243.5 530.9 L246.5 531.9 L249.5 533.0 L252.5 534.0 L255.5 534.9 L258.5 535.9 L261.5 536.8 L264.5 537.7 L267.5 538.5 L270.5 539.3 L273.5 540.0 L276.5 540.8 L279.5 541.4 L282.5 542.1 L285.5 542.6 L288.5 543.2 L291.5 543.6 L294.5 544.1 L297.5 544.5 L300.5 544.8 L303.5 545.1 L306.5 545.3 L309.5 545.5 L312.5 545.6 L315.5 545.6 L318.5 545.6 L321.5 545.5 L324.5 545.4 L327.5 545.1 L330.5 544.9 L333.5 544.5 L336.5 544.1 L339.5 543.6 L342.5 543.0 L345.5 542.4 L348.5 541.7 L351.5 540.9 L354.5 540.0 L357.5 539.1 L360.5 538.0 L362.0 537.5" fill="none" stroke="#008b00" stroke-width="1.70" stroke-linejoin="round"/>
<path d="M170.4 663.7 L170.4 592.7 L170.4 592.7 L173.4 593.0 L176.4 593.3 L179.4 593.5 L182.4 593.8 L185.4 594.0 L188.4 594.2 L191.4 594.3 L194.4 594.5 L197.4 594.6 L200.4 594.7 L203.4 594.8 L206.4 594.8 L209.4 594.8 L212.4 594.8 L215.4 594.8 L218.4 594.8 L221.4 594.7 L224.4 594.6 L227.4 594.5 L230.4 594.3 L233.4 594.1 L236.4 593.9 L239.4 593.7 L242.4 593.4 L245.4 593.1 L248.4 592.8 L251.4 592.4 L254.4 592.1 L257.4 591.6 L260.4 591.2 L263.4 590.7 L266.4 590.2 L269.4 589.7 L272.4 589.1 L275.4 588.5 L278.4 587.9 L281.4 587.3 L284.4 586.6 L287.4 585.8 L290.4 585.1 L293.4 584.3 L296.4 583.5 L299.4 582.6 L302.4 581.7 L305.4 580.8 L308.4 579.8 L311.4 578.8 L314.4 577.8 L317.4 576.7 L320.4 575.6 L323.4 574.5 L326.4 573.3 L329.4 572.1 L332.4 570.8 L335.4 569.5 L338.4 568.2 L341.4 566.9 L344.4 565.4 L347.4 564.0 L350.4 562.5 L353.4 561.0 L356.4 559.4 L359.4 557.8 L362.0 556.4" fill="none" stroke="#008b00" stroke-width="1.55" stroke-dasharray="5 2.8" stroke-linejoin="round"/>
<path d="M184.6 663.7 L184.6 467.6 L184.6 467.6 L187.6 468.6 L190.6 469.7 L193.6 470.7 L196.6 471.6 L199.6 472.6 L202.6 473.5 L205.6 474.3 L208.6 475.2 L211.6 476.0 L214.6 476.8 L217.6 477.6 L220.6 478.3 L223.6 479.0 L226.6 479.6 L229.6 480.3 L232.6 480.9 L235.6 481.5 L238.6 482.0 L241.6 482.5 L244.6 483.0 L247.6 483.4 L250.6 483.8 L253.6 484.2 L256.6 484.5 L259.6 484.9 L262.6 485.1 L265.6 485.4 L268.6 485.6 L271.6 485.8 L274.6 485.9 L277.6 486.0 L280.6 486.1 L283.6 486.1 L286.6 486.1 L289.6 486.1 L292.6 486.0 L295.6 485.9 L298.6 485.7 L301.6 485.6 L304.6 485.3 L307.6 485.1 L310.6 484.8 L313.6 484.5 L316.6 484.1 L319.6 483.7 L322.6 483.2 L325.6 482.7 L328.6 482.2 L331.6 481.7 L334.6 481.1 L337.6 480.4 L340.6 479.7 L343.6 479.0 L346.6 478.3 L349.6 477.5 L352.6 476.6 L355.6 475.7 L358.6 474.8 L361.6 473.8 L362.0 473.7" fill="none" stroke="#bc8f8f" stroke-width="1.70" stroke-linejoin="round"/>
<path d="M185.6 663.7 L185.6 473.3 L185.6 473.3 L188.6 474.4 L191.6 475.4 L194.6 476.4 L197.6 477.4 L200.6 478.3 L203.6 479.2 L206.6 480.1 L209.6 480.9 L212.6 481.7 L215.6 482.5 L218.6 483.2 L221.6 483.9 L224.6 484.6 L227.6 485.2 L230.6 485.8 L233.6 486.4 L236.6 486.9 L239.6 487.4 L242.6 487.9 L245.6 488.3 L248.6 488.6 L251.6 489.0 L254.6 489.3 L257.6 489.5 L260.6 489.8 L263.6 490.0 L266.6 490.1 L269.6 490.2 L272.6 490.3 L275.6 490.3 L278.6 490.3 L281.6 490.3 L284.6 490.2 L287.6 490.0 L290.6 489.9 L293.6 489.6 L296.6 489.4 L299.6 489.1 L302.6 488.8 L305.6 488.4 L308.6 487.9 L311.6 487.5 L314.6 487.0 L317.6 486.4 L320.6 485.8 L323.6 485.1 L326.6 484.5 L329.6 483.7 L332.6 482.9 L335.6 482.1 L338.6 481.2 L341.6 480.3 L344.6 479.3 L347.6 478.3 L350.6 477.3 L353.6 476.2 L356.6 475.0 L359.6 473.8 L362.0 472.8" fill="none" stroke="#40e0d0" stroke-width="1.70" stroke-linejoin="round"/>
<path d="M203.1 663.7 L203.1 451.8 L203.1 451.8 L206.1 452.2 L209.1 452.6 L212.1 453.0 L215.1 453.5 L218.1 454.0 L221.1 454.5 L224.1 455.1 L227.1 455.6 L230.1 456.2 L233.1 456.8 L236.1 457.5 L239.1 458.1 L242.1 458.8 L245.1 459.4 L248.1 460.1 L251.1 460.8 L254.1 461.5 L257.1 462.2 L260.1 462.8 L263.1 463.5 L266.1 464.2 L269.1 464.8 L272.1 465.4 L275.1 466.1 L278.1 466.7 L281.1 467.2 L284.1 467.8 L287.1 468.3 L290.1 468.8 L293.1 469.3 L296.1 469.8 L299.1 470.2 L302.1 470.6 L305.1 470.9 L308.1 471.2 L311.1 471.4 L314.1 471.6 L317.1 471.8 L320.1 471.9 L323.1 471.9 L326.1 471.9 L329.1 471.8 L332.1 471.7 L335.1 471.5 L338.1 471.2 L341.1 470.9 L344.1 470.5 L347.1 470.0 L350.1 469.5 L353.1 468.9 L356.1 468.1 L359.1 467.3 L362.0 466.5" fill="none" stroke="#40e0d0" stroke-width="1.55" stroke-dasharray="5 2.8" stroke-linejoin="round"/>
<path d="M192.2 663.7 L192.2 485.5 L192.2 485.5 L195.2 486.9 L198.2 488.3 L201.2 489.6 L204.2 490.9 L207.2 492.2 L210.2 493.5 L213.2 494.8 L216.2 496.0 L219.2 497.3 L222.2 498.5 L225.2 499.6 L228.2 500.8 L231.2 501.9 L234.2 503.0 L237.2 504.1 L240.2 505.1 L243.2 506.2 L246.2 507.1 L249.2 508.1 L252.2 509.0 L255.2 509.9 L258.2 510.8 L261.2 511.6 L264.2 512.4 L267.2 513.2 L270.2 513.9 L273.2 514.6 L276.2 515.3 L279.2 515.9 L282.2 516.5 L285.2 517.0 L288.2 517.5 L291.2 518.0 L294.2 518.4 L297.2 518.8 L300.2 519.2 L303.2 519.5 L306.2 519.7 L309.2 519.9 L312.2 520.1 L315.2 520.2 L318.2 520.3 L321.2 520.3 L324.2 520.3 L327.2 520.3 L330.2 520.1 L333.2 520.0 L336.2 519.8 L339.2 519.5 L342.2 519.2 L345.2 518.8 L348.2 518.4 L351.2 517.9 L354.2 517.4 L357.2 516.8 L360.2 516.1 L362.0 515.7" fill="none" stroke="#bc8f8f" stroke-width="1.55" stroke-dasharray="5 2.8" stroke-linejoin="round"/>
<path d="M203.6 663.7 L203.6 462.0 L203.6 462.0 L206.6 462.6 L209.6 463.2 L212.6 463.8 L215.6 464.3 L218.6 464.9 L221.6 465.4 L224.6 465.9 L227.6 466.4 L230.6 466.9 L233.6 467.3 L236.6 467.7 L239.6 468.2 L242.6 468.5 L245.6 468.9 L248.6 469.2 L251.6 469.5 L254.6 469.8 L257.6 470.1 L260.6 470.3 L263.6 470.5 L266.6 470.7 L269.6 470.8 L272.6 470.9 L275.6 471.0 L278.6 471.0 L281.6 471.0 L284.6 471.0 L287.6 470.9 L290.6 470.8 L293.6 470.7 L296.6 470.5 L299.6 470.3 L302.6 470.0 L305.6 469.7 L308.6 469.4 L311.6 469.0 L314.6 468.6 L317.6 468.1 L320.6 467.6 L323.6 467.0 L326.6 466.4 L329.6 465.8 L332.6 465.1 L335.6 464.3 L338.6 463.5 L341.6 462.7 L344.6 461.8 L347.6 460.8 L350.6 459.8 L353.6 458.8 L356.6 457.6 L359.6 456.5 L362.0 455.5" fill="none" stroke="#9400d3" stroke-width="1.70" stroke-linejoin="round"/>
<path d="M204.6 663.7 L204.6 499.0 L204.6 499.0 L207.6 498.8 L210.6 498.6 L213.6 498.3 L216.6 498.0 L219.6 497.7 L222.6 497.4 L225.6 497.1 L228.6 496.7 L231.6 496.3 L234.6 495.9 L237.6 495.5 L240.6 495.1 L243.6 494.6 L246.6 494.2 L249.6 493.7 L252.6 493.2 L255.6 492.6 L258.6 492.1 L261.6 491.5 L264.6 490.9 L267.6 490.3 L270.6 489.7 L273.6 489.1 L276.6 488.5 L279.6 487.8 L282.6 487.1 L285.6 486.4 L288.6 485.7 L291.6 485.0 L294.6 484.3 L297.6 483.5 L300.6 482.7 L303.6 482.0 L306.6 481.2 L309.6 480.4 L312.6 479.6 L315.6 478.7 L318.6 477.9 L321.6 477.0 L324.6 476.2 L327.6 475.3 L330.6 474.4 L333.6 473.5 L336.6 472.6 L339.6 471.7 L342.6 470.8 L345.6 469.9 L348.6 468.9 L351.6 468.0 L354.6 467.0 L357.6 466.0 L360.6 465.1 L362.0 464.6" fill="none" stroke="#9400d3" stroke-width="1.55" stroke-dasharray="5 2.8" stroke-linejoin="round"/>
<path d="M210.0 663.7 L210.0 545.5 L210.0 545.5 L213.0 546.6 L216.0 547.8 L219.0 548.9 L222.0 550.0 L225.0 551.2 L228.0 552.3 L231.0 553.4 L234.0 554.5 L237.0 555.6 L240.0 556.7 L243.0 557.8 L246.0 558.8 L249.0 559.8 L252.0 560.8 L255.0 561.8 L258.0 562.7 L261.0 563.6 L264.0 564.4 L267.0 565.2 L270.0 565.9 L273.0 566.6 L276.0 567.3 L279.0 567.8 L282.0 568.4 L285.0 568.8 L288.0 569.2 L291.0 569.5 L294.0 569.8 L297.0 569.9 L300.0 570.0 L303.0 570.0 L306.0 569.9 L309.0 569.8 L312.0 569.5 L315.0 569.1 L318.0 568.7 L321.0 568.1 L324.0 567.4 L327.0 566.6 L330.0 565.8 L333.0 564.8 L336.0 563.6 L339.0 562.4 L342.0 561.0 L345.0 559.5 L348.0 557.9 L351.0 556.1 L354.0 554.2 L357.0 552.2 L360.0 550.0 L362.0 548.5" fill="none" stroke="#ff00ff" stroke-width="1.70" stroke-linejoin="round"/>
<path d="M224.5 663.7 L224.5 530.0 L224.5 530.0 L227.5 531.0 L230.5 532.1 L233.5 533.2 L236.5 534.5 L239.5 535.8 L242.5 537.1 L245.5 538.6 L248.5 540.0 L251.5 541.6 L254.5 543.1 L257.5 544.7 L260.5 546.3 L263.5 547.9 L266.5 549.5 L269.5 551.1 L272.5 552.7 L275.5 554.3 L278.5 555.8 L281.5 557.3 L284.5 558.8 L287.5 560.3 L290.5 561.7 L293.5 563.0 L296.5 564.2 L299.5 565.4 L302.5 566.5 L305.5 567.5 L308.5 568.5 L311.5 569.3 L314.5 570.0 L317.5 570.6 L320.5 571.0 L323.5 571.4 L326.5 571.6 L329.5 571.6 L332.5 571.5 L335.5 571.2 L338.5 570.8 L341.5 570.2 L344.5 569.4 L347.5 568.4 L350.5 567.2 L353.5 565.8 L356.5 564.2 L359.5 562.4 L362.0 560.7" fill="none" stroke="#ff00ff" stroke-width="1.55" stroke-dasharray="5 2.8" stroke-linejoin="round"/>
<path d="M209.1 663.7 L209.1 559.1 L209.1 559.1 L212.1 560.2 L215.1 561.3 L218.1 562.5 L221.1 563.7 L224.1 565.1 L227.1 566.4 L230.1 567.8 L233.1 569.2 L236.1 570.7 L239.1 572.2 L242.1 573.6 L245.1 575.2 L248.1 576.7 L251.1 578.2 L254.1 579.7 L257.1 581.2 L260.1 582.6 L263.1 584.1 L266.1 585.5 L269.1 586.9 L272.1 588.2 L275.1 589.5 L278.1 590.8 L281.1 591.9 L284.1 593.1 L287.1 594.1 L290.1 595.1 L293.1 596.0 L296.1 596.8 L299.1 597.5 L302.1 598.1 L305.1 598.6 L308.1 599.0 L311.1 599.2 L314.1 599.4 L317.1 599.4 L320.1 599.3 L323.1 599.1 L326.1 598.7 L329.1 598.1 L332.1 597.4 L335.1 596.5 L338.1 595.5 L341.1 594.3 L344.1 592.9 L347.1 591.3 L350.1 589.5 L353.1 587.5 L356.1 585.3 L359.1 582.9 L362.0 580.4" fill="none" stroke="#670748" stroke-width="1.70" stroke-linejoin="round"/>
<path d="M215.1 663.7 L215.1 565.5 L215.1 565.5 L218.1 566.9 L221.1 568.4 L224.1 569.9 L227.1 571.4 L230.1 572.9 L233.1 574.4 L236.1 575.9 L239.1 577.4 L242.1 579.0 L245.1 580.5 L248.1 582.0 L251.1 583.5 L254.1 584.9 L257.1 586.4 L260.1 587.8 L263.1 589.2 L266.1 590.6 L269.1 591.9 L272.1 593.2 L275.1 594.4 L278.1 595.6 L281.1 596.8 L284.1 597.9 L287.1 598.9 L290.1 599.9 L293.1 600.8 L296.1 601.7 L299.1 602.5 L302.1 603.2 L305.1 603.8 L308.1 604.3 L311.1 604.8 L314.1 605.2 L317.1 605.5 L320.1 605.6 L323.1 605.7 L326.1 605.7 L329.1 605.6 L332.1 605.4 L335.1 605.0 L338.1 604.6 L341.1 604.0 L344.1 603.3 L347.1 602.5 L350.1 601.5 L353.1 600.4 L356.1 599.2 L359.1 597.8 L362.0 596.3" fill="none" stroke="#670748" stroke-width="1.55" stroke-dasharray="5 2.8" stroke-linejoin="round"/>
<text x="119.6" y="51.8" font-size="16.3" fill="#ff0000" text-anchor="start" font-family="'Liberation Serif', serif" >(010)</text>
<text x="133.3" y="69.0" font-size="16.3" fill="#0000ff" text-anchor="start" font-family="'Liberation Serif', serif" >(100)</text>
<text x="117.8" y="115.5" font-size="16.3" fill="#ffa500" text-anchor="start" font-family="'Liberation Serif', serif" >(020)</text>
<text x="183.6" y="96.3" font-size="16.3" fill="#008b00" text-anchor="start" font-family="'Liberation Serif', serif" >(001)</text>
<text x="244.5" y="152.0" font-size="16.3" fill="#40e0d0" text-anchor="start" font-family="'Liberation Serif', serif" >(110)</text>
<text x="302.4" y="160.8" font-size="16.3" fill="#9400d3" text-anchor="start" font-family="'Liberation Serif', serif" >(011)</text>
<text x="211.8" y="183.2" font-size="16.3" fill="#bc8f8f" text-anchor="start" font-family="'Liberation Serif', serif" >(030)</text>
<text x="228.2" y="240.5" font-size="16.3" fill="#ff00ff" text-anchor="start" font-family="'Liberation Serif', serif" >(120)</text>
<text x="233.6" y="269.0" font-size="16.3" fill="#670748" text-anchor="start" font-family="'Liberation Serif', serif" >(040)</text>
<text x="213.7" y="41.5" font-size="17" fill="#000000" font-family="'Liberation Serif', serif" textLength="74.5" lengthAdjust="spacing">(&#965;&#8217;<tspan dy="4.5" font-size="11.5">1</tspan><tspan dy="-4.5">&#965;&#8217;</tspan><tspan dy="4.5" font-size="11.5">2</tspan><tspan dy="-4.5">&#965;&#8217;</tspan><tspan dy="4.5" font-size="11.5">3</tspan><tspan dy="-4.5">)</tspan></text>
<line x1="315.0" y1="38.6" x2="298.2" y2="38.6" stroke="#000000" stroke-width="2.6"/>
<polygon points="291.0,38.6 300.0,34.1 300.0,43.1" fill="#000000"/>
<text x="322.8" y="42.8" font-size="15.8" fill="#000000" text-anchor="start" font-family="'Liberation Serif', serif" >(000)</text>
<text x="86.0" y="406.3" font-size="16.3" fill="#000000" text-anchor="start" font-family="'Liberation Serif', serif" >(000)</text>
<text x="102.4" y="452.0" font-size="16.3" fill="#0000ff" text-anchor="start" font-family="'Liberation Serif', serif" >(100)</text>
<text x="159.0" y="439.3" font-size="16.3" fill="#bc8f8f" text-anchor="start" font-family="'Liberation Serif', serif" >(030)</text>
<line x1="184.5" y1="443.5" x2="187.3" y2="459.4" stroke="#bc8f8f" stroke-width="2.8"/>
<polygon points="188.4,466.0 182.0,457.5 191.5,455.8" fill="#bc8f8f"/>
<text x="98.7" y="519.5" font-size="16.3" fill="#40e0d0" text-anchor="start" font-family="'Liberation Serif', serif" >(110)</text>
<line x1="137.8" y1="514.5" x2="179.3" y2="498.0" stroke="#40e0d0" stroke-width="2.8"/>
<polygon points="185.5,495.5 178.5,503.5 174.9,494.6" fill="#40e0d0"/>
<text x="92.4" y="567.0" font-size="16.3" fill="#ffa500" text-anchor="start" font-family="'Liberation Serif', serif" >(020)</text>
<line x1="129.6" y1="561.8" x2="140.2" y2="558.3" stroke="#ffa500" stroke-width="2.8"/>
<polygon points="146.5,556.2 139.0,563.7 136.0,554.6" fill="#ffa500"/>
<text x="88.7" y="613.2" font-size="16.3" fill="#008b00" text-anchor="start" font-family="'Liberation Serif', serif" >(001)</text>
<line x1="127.8" y1="606.4" x2="164.6" y2="602.5" stroke="#008b00" stroke-width="2.8"/>
<polygon points="171.2,601.8 162.3,607.6 161.2,598.0" fill="#008b00"/>
<text x="236.4" y="621.8" font-size="16.3" fill="#ff00ff" text-anchor="start" font-family="'Liberation Serif', serif" >(120)</text>
<line x1="241.8" y1="603.5" x2="241.8" y2="566.1" stroke="#ff00ff" stroke-width="2.8"/>
<polygon points="241.8,559.5 246.6,569.0 237.0,569.0" fill="#ff00ff"/>
<text x="319.8" y="622.8" font-size="16.3" fill="#670748" text-anchor="start" font-family="'Liberation Serif', serif" >(040)</text>
<line x1="317.6" y1="618.6" x2="308.9" y2="610.5" stroke="#670748" stroke-width="2.8"/>
<polygon points="304.0,606.0 314.2,608.9 307.7,616.0" fill="#670748"/>
<text x="315.5" y="422.5" font-size="16.3" fill="#9400d3" text-anchor="start" font-family="'Liberation Serif', serif" >(011)</text>
<line x1="335.1" y1="424.9" x2="301.1" y2="464.7" stroke="#9400d3" stroke-width="2.8"/>
<polygon points="296.8,469.8 299.3,459.5 306.6,465.7" fill="#9400d3"/>
<text x="210.9" y="387.2" font-size="17" fill="#ff0000" font-family="'Liberation Serif', serif" textLength="74.5" lengthAdjust="spacing">(&#965;&#8217;<tspan dy="4.5" font-size="11.5">1</tspan><tspan dy="-4.5">&#965;&#8217;</tspan><tspan dy="4.5" font-size="11.5">2</tspan><tspan dy="-4.5">&#965;&#8217;</tspan><tspan dy="4.5" font-size="11.5">3</tspan><tspan dy="-4.5">)</tspan></text>
<line x1="312.5" y1="383.0" x2="298.2" y2="383.0" stroke="#ff0000" stroke-width="2.6"/>
<polygon points="291.0,383.0 300.0,378.5 300.0,387.5" fill="#ff0000"/>
<text x="319.8" y="387.8" font-size="16.3" fill="#ff0000" text-anchor="start" font-family="'Liberation Serif', serif" >(010)</text>
<line x1="373.5" y1="36.8" x2="452.0" y2="36.8" stroke="#ff00ff" stroke-width="2.3" stroke-dasharray="6 4.3"/>
<line x1="373.5" y1="50.1" x2="452.0" y2="50.1" stroke="#670748" stroke-width="2.3" stroke-dasharray="6 4.3"/>
<line x1="373.5" y1="73.8" x2="453.5" y2="73.8" stroke="#9400d3" stroke-width="2.1"/>
<line x1="373.5" y1="70.2" x2="452.0" y2="70.2" stroke="#40e0d0" stroke-width="2.3" stroke-dasharray="6 4.3"/>
<line x1="373.5" y1="68.2" x2="452.0" y2="68.2" stroke="#9400d3" stroke-width="2.3" stroke-dasharray="6 4.3"/>
<line x1="373.5" y1="65.8" x2="453.5" y2="65.8" stroke="#670748" stroke-width="2.1"/>
<line x1="373.5" y1="64.0" x2="453.5" y2="64.0" stroke="#ff00ff" stroke-width="2.1"/>
<line x1="373.5" y1="85.1" x2="452.0" y2="85.1" stroke="#bc8f8f" stroke-width="2.3" stroke-dasharray="6 4.3"/>
<line x1="373.5" y1="101.6" x2="453.5" y2="101.6" stroke="#40e0d0" stroke-width="2.1"/>
<line x1="373.5" y1="100.5" x2="453.5" y2="100.5" stroke="#bc8f8f" stroke-width="2.1"/>
<line x1="373.5" y1="116.4" x2="452" y2="116.4" stroke="#0000ff" stroke-width="2.3" stroke-dasharray="6 4.3"/>
<line x1="373.5" y1="114.2" x2="452.0" y2="114.2" stroke="#008b00" stroke-width="2.6" stroke-dasharray="6 4.3"/>
<line x1="373.5" y1="114.3" x2="453.5" y2="114.3" stroke="#008b00" stroke-width="1.2"/>
<line x1="373.5" y1="136.0" x2="452.0" y2="136.0" stroke="#ffa500" stroke-width="2.3" stroke-dasharray="6 4.3"/>
<line x1="373.5" y1="155.0" x2="453.5" y2="155.0" stroke="#0000ff" stroke-width="2.1"/>
<line x1="373.5" y1="152.6" x2="453.5" y2="152.6" stroke="#ffa500" stroke-width="2.1"/>
<line x1="373.5" y1="224.2" x2="452.0" y2="224.2" stroke="#ff0000" stroke-width="2.3" stroke-dasharray="6 4.3"/>
<line x1="373.5" y1="240.8" x2="453.5" y2="240.8" stroke="#ff0000" stroke-width="2.1"/>
<line x1="380.8" y1="313.0" x2="380.8" y2="241.3" stroke="#ff0000" stroke-width="1.4"/>
<polyline points="377.6,247.8 380.8,241.3 384.0,247.8" fill="none" stroke="#ff0000" stroke-width="1.4"/>
<line x1="389.5" y1="313.0" x2="389.5" y2="155.5" stroke="#0000ff" stroke-width="1.4"/>
<polyline points="386.3,162.0 389.5,155.5 392.7,162.0" fill="none" stroke="#0000ff" stroke-width="1.4"/>
<line x1="397.8" y1="313.0" x2="397.8" y2="153.1" stroke="#ffa500" stroke-width="1.4"/>
<polyline points="394.6,159.6 397.8,153.1 401.0,159.6" fill="none" stroke="#ffa500" stroke-width="1.4"/>
<line x1="404.0" y1="313.0" x2="404.0" y2="115.1" stroke="#008b00" stroke-width="1.4"/>
<polyline points="400.8,121.6 404.0,115.1 407.2,121.6" fill="none" stroke="#008b00" stroke-width="1.4"/>
<line x1="411.5" y1="313.0" x2="411.5" y2="102.1" stroke="#40e0d0" stroke-width="1.4"/>
<polyline points="408.3,108.6 411.5,102.1 414.7,108.6" fill="none" stroke="#40e0d0" stroke-width="1.4"/>
<line x1="419.8" y1="313.0" x2="419.8" y2="101.0" stroke="#bc8f8f" stroke-width="1.4"/>
<polyline points="416.6,107.5 419.8,101.0 423.0,107.5" fill="none" stroke="#bc8f8f" stroke-width="1.4"/>
<line x1="426.4" y1="313.0" x2="426.4" y2="74.3" stroke="#9400d3" stroke-width="1.4"/>
<polyline points="423.2,80.8 426.4,74.3 429.6,80.8" fill="none" stroke="#9400d3" stroke-width="1.4"/>
<line x1="434.5" y1="313.0" x2="434.5" y2="66.3" stroke="#670748" stroke-width="1.4"/>
<polyline points="431.3,72.8 434.5,66.3 437.7,72.8" fill="none" stroke="#670748" stroke-width="1.4"/>
<line x1="443.2" y1="313.0" x2="443.2" y2="64.5" stroke="#ff00ff" stroke-width="1.4"/>
<polyline points="440.0,71.0 443.2,64.5 446.4,71.0" fill="none" stroke="#ff00ff" stroke-width="1.4"/>
<text x="456.5" y="33.5" font-size="17.0" fill="#ff00ff" text-anchor="start" font-family="'Liberation Serif', serif" >(120)</text>
<text x="456.5" y="51.8" font-size="17.0" fill="#670748" text-anchor="start" font-family="'Liberation Serif', serif" >(040)</text>
<text x="456.5" y="71.0" font-size="17.0" fill="#9400d3" text-anchor="start" font-family="'Liberation Serif', serif" >(011)</text>
<text x="456.5" y="86.4" font-size="17.0" fill="#bc8f8f" text-anchor="start" font-family="'Liberation Serif', serif" >(030)</text>
<text x="456.5" y="102.8" font-size="17.0" fill="#40e0d0" text-anchor="start" font-family="'Liberation Serif', serif" >(110)</text>
<text x="456.5" y="122.2" font-size="17.0" fill="#008b00" text-anchor="start" font-family="'Liberation Serif', serif" >(001)</text>
<text x="456.5" y="148.0" font-size="17.0" fill="#ffa500" text-anchor="start" font-family="'Liberation Serif', serif" >(020)</text>
<text x="456.5" y="165.5" font-size="17.0" fill="#0000ff" text-anchor="start" font-family="'Liberation Serif', serif" >(100)</text>
<text x="456.5" y="242.8" font-size="17.0" fill="#ff0000" text-anchor="start" font-family="'Liberation Serif', serif" >(010)</text>
<text x="456.5" y="310.0" font-size="17.0" fill="#000000" text-anchor="start" font-family="'Liberation Serif', serif" >(000)</text>
<line x1="373.5" y1="388.2" x2="452.0" y2="388.2" stroke="#ff00ff" stroke-width="2.3" stroke-dasharray="6 4.3"/>
<line x1="373.5" y1="401.5" x2="452.0" y2="401.5" stroke="#670748" stroke-width="2.3" stroke-dasharray="6 4.3"/>
<line x1="373.5" y1="425.2" x2="453.5" y2="425.2" stroke="#9400d3" stroke-width="2.1"/>
<line x1="373.5" y1="421.6" x2="452.0" y2="421.6" stroke="#40e0d0" stroke-width="2.3" stroke-dasharray="6 4.3"/>
<line x1="373.5" y1="419.6" x2="452.0" y2="419.6" stroke="#9400d3" stroke-width="2.3" stroke-dasharray="6 4.3"/>
<line x1="373.5" y1="417.2" x2="453.5" y2="417.2" stroke="#670748" stroke-width="2.1"/>
<line x1="373.5" y1="415.4" x2="453.5" y2="415.4" stroke="#ff00ff" stroke-width="2.1"/>
<line x1="373.5" y1="436.5" x2="452.0" y2="436.5" stroke="#bc8f8f" stroke-width="2.3" stroke-dasharray="6 4.3"/>
<line x1="373.5" y1="453.0" x2="453.5" y2="453.0" stroke="#40e0d0" stroke-width="2.1"/>
<line x1="373.5" y1="451.9" x2="453.5" y2="451.9" stroke="#bc8f8f" stroke-width="2.1"/>
<line x1="373.5" y1="467.8" x2="452" y2="467.8" stroke="#0000ff" stroke-width="2.3" stroke-dasharray="6 4.3"/>
<line x1="373.5" y1="465.6" x2="452.0" y2="465.6" stroke="#008b00" stroke-width="2.6" stroke-dasharray="6 4.3"/>
<line x1="373.5" y1="465.7" x2="453.5" y2="465.7" stroke="#008b00" stroke-width="1.2"/>
<line x1="373.5" y1="487.4" x2="452.0" y2="487.4" stroke="#ffa500" stroke-width="2.3" stroke-dasharray="6 4.3"/>
<line x1="373.5" y1="506.4" x2="453.5" y2="506.4" stroke="#0000ff" stroke-width="2.1"/>
<line x1="373.5" y1="504.0" x2="453.5" y2="504.0" stroke="#ffa500" stroke-width="2.1"/>
<line x1="373.5" y1="575.6" x2="452.0" y2="575.6" stroke="#ff0000" stroke-width="2.3" stroke-dasharray="6 4.3"/>
<line x1="373.5" y1="592.2" x2="453.5" y2="592.2" stroke="#ff0000" stroke-width="2.1"/>
<line x1="389.5" y1="592.2" x2="389.5" y2="506.9" stroke="#0000ff" stroke-width="1.4"/>
<polyline points="386.3,513.4 389.5,506.9 392.7,513.4" fill="none" stroke="#0000ff" stroke-width="1.4"/>
<line x1="397.8" y1="592.2" x2="397.8" y2="504.5" stroke="#ffa500" stroke-width="1.4"/>
<polyline points="394.6,511.0 397.8,504.5 401.0,511.0" fill="none" stroke="#ffa500" stroke-width="1.4"/>
<line x1="405.8" y1="592.2" x2="405.8" y2="466.5" stroke="#008b00" stroke-width="1.4"/>
<polyline points="402.6,473.0 405.8,466.5 409.0,473.0" fill="none" stroke="#008b00" stroke-width="1.4"/>
<line x1="412.7" y1="592.2" x2="412.7" y2="453.5" stroke="#40e0d0" stroke-width="1.4"/>
<polyline points="409.5,460.0 412.7,453.5 415.9,460.0" fill="none" stroke="#40e0d0" stroke-width="1.4"/>
<line x1="419.8" y1="592.2" x2="419.8" y2="452.4" stroke="#bc8f8f" stroke-width="1.4"/>
<polyline points="416.6,458.9 419.8,452.4 423.0,458.9" fill="none" stroke="#bc8f8f" stroke-width="1.4"/>
<line x1="426.4" y1="592.2" x2="426.4" y2="425.7" stroke="#9400d3" stroke-width="1.4"/>
<polyline points="423.2,432.2 426.4,425.7 429.6,432.2" fill="none" stroke="#9400d3" stroke-width="1.4"/>
<line x1="434.5" y1="592.2" x2="434.5" y2="417.7" stroke="#670748" stroke-width="1.4"/>
<polyline points="431.3,424.2 434.5,417.7 437.7,424.2" fill="none" stroke="#670748" stroke-width="1.4"/>
<line x1="443.2" y1="592.2" x2="443.2" y2="415.9" stroke="#ff00ff" stroke-width="1.4"/>
<polyline points="440.0,422.4 443.2,415.9 446.4,422.4" fill="none" stroke="#ff00ff" stroke-width="1.4"/>
<line x1="381.4" y1="592.2" x2="381.4" y2="663.4" stroke="#000000" stroke-width="1.4"/>
<polyline points="378.2,656.9 381.4,663.4 384.6,656.9" fill="none" stroke="#000000" stroke-width="1.4"/>
<text x="456.5" y="383.6" font-size="17.0" fill="#ff00ff" text-anchor="start" font-family="'Liberation Serif', serif" >(120)</text>
<text x="456.5" y="401.9" font-size="17.0" fill="#670748" text-anchor="start" font-family="'Liberation Serif', serif" >(040)</text>
<text x="456.5" y="421.1" font-size="17.0" fill="#9400d3" text-anchor="start" font-family="'Liberation Serif', serif" >(011)</text>
<text x="456.5" y="436.5" font-size="17.0" fill="#bc8f8f" text-anchor="start" font-family="'Liberation Serif', serif" >(030)</text>
<text x="456.5" y="452.9" font-size="17.0" fill="#40e0d0" text-anchor="start" font-family="'Liberation Serif', serif" >(110)</text>
<text x="456.5" y="472.3" font-size="17.0" fill="#008b00" text-anchor="start" font-family="'Liberation Serif', serif" >(001)</text>
<text x="456.5" y="498.1" font-size="17.0" fill="#ffa500" text-anchor="start" font-family="'Liberation Serif', serif" >(020)</text>
<text x="456.5" y="515.6" font-size="17.0" fill="#0000ff" text-anchor="start" font-family="'Liberation Serif', serif" >(100)</text>
<text x="456.5" y="592.9" font-size="17.0" fill="#ff0000" text-anchor="start" font-family="'Liberation Serif', serif" >(010)</text>
<text x="456.5" y="660.1" font-size="17.0" fill="#000000" text-anchor="start" font-family="'Liberation Serif', serif" >(000)</text>
</svg>
</body></html>
